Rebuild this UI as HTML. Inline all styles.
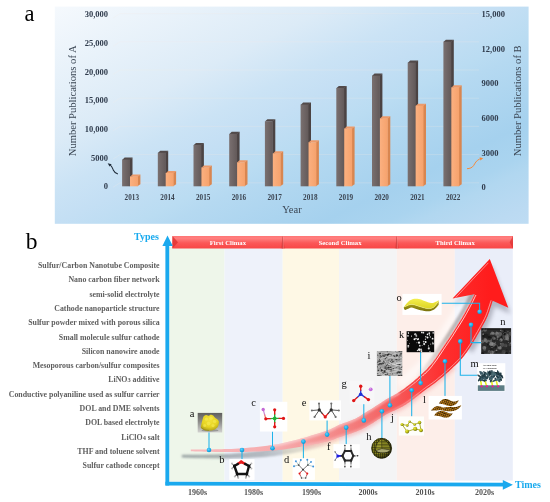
<!DOCTYPE html>
<html lang="en">
<head>
<meta charset="utf-8">
<title>Figure</title>
<style>
html,body{margin:0;padding:0;background:#fff;}
body{width:550px;height:502px;overflow:hidden;position:relative;font-family:"Liberation Serif", "DejaVu Serif", serif;}
svg{position:absolute;left:0;top:0;display:block;}
text{font-family:"Liberation Serif", "DejaVu Serif", serif;}
.ax{font-weight:bold;font-size:8.5px;fill:#2f3b4c;}
.yr{font-weight:bold;font-size:7.2px;fill:#3a4350;}
.ttl{font-size:10.6px;fill:#3b4654;}
.lst{font-weight:bold;font-size:7.85px;fill:#5e5e5e;text-anchor:end;}
.dec{font-weight:bold;font-size:8px;fill:#555;text-anchor:middle;}
.cyan{font-weight:bold;font-size:10px;fill:#18aaee;}
.lab{font-size:10.5px;fill:#111;}
.ban{font-weight:bold;font-size:6.7px;fill:#fff;text-anchor:middle;}
.big{font-size:23.5px;fill:#000;}
</style>
</head>
<body>
<svg width="550" height="502" viewBox="0 0 550 502">
<defs>
<linearGradient id="pbg" gradientUnits="userSpaceOnUse" x1="55" y1="6.5" x2="229" y2="367.8">
<stop offset="0" stop-color="#f5f9fd"/>
<stop offset="0.30" stop-color="#dcebf7"/>
<stop offset="0.414" stop-color="#cbe3f5"/>
<stop offset="0.486" stop-color="#c4dff4"/>
<stop offset="0.574" stop-color="#badcf2"/>
<stop offset="0.611" stop-color="#b5d9f1"/>
<stop offset="0.773" stop-color="#a5d1ee"/>
<stop offset="0.843" stop-color="#aad4ef"/>
<stop offset="0.875" stop-color="#b1d7f0"/>
<stop offset="0.96" stop-color="#bbdaf2"/>
<stop offset="1" stop-color="#bedcf3"/>
</linearGradient>
<linearGradient id="dk" x1="0" x2="1" y1="0" y2="0"><stop offset="0" stop-color="#7a7070"/><stop offset="1" stop-color="#625959"/></linearGradient>
<linearGradient id="og" x1="0" x2="1" y1="0" y2="0"><stop offset="0" stop-color="#fbb080"/><stop offset="1" stop-color="#f6a26c"/></linearGradient>
<linearGradient id="ban" x1="0" x2="0" y1="0" y2="1"><stop offset="0" stop-color="#ff7474"/><stop offset="0.18" stop-color="#ff8080"/><stop offset="0.55" stop-color="#fb5858"/><stop offset="1" stop-color="#f84646"/></linearGradient>
<linearGradient id="arr" gradientUnits="userSpaceOnUse" x1="190" y1="0" x2="490" y2="0">
<stop offset="0" stop-color="#f8babd"/>
<stop offset="0.3" stop-color="#f6aaac"/>
<stop offset="0.45" stop-color="#f49090"/>
<stop offset="0.58" stop-color="#f37474"/>
<stop offset="0.68" stop-color="#f65c5c"/>
<stop offset="0.76" stop-color="#fa4444"/>
<stop offset="0.85" stop-color="#fe2e2e"/>
<stop offset="1" stop-color="#ff1c1c"/>
</linearGradient>
<radialGradient id="dot" cx="0.4" cy="0.35" r="0.7"><stop offset="0" stop-color="#5fd0ff"/><stop offset="0.6" stop-color="#17aee8"/><stop offset="1" stop-color="#0b8fcc"/></radialGradient>
<filter id="blur3" x="-20%" y="-20%" width="140%" height="140%"><feGaussianBlur stdDeviation="2.2"/></filter>
<filter id="blur1" x="-20%" y="-20%" width="140%" height="140%"><feGaussianBlur stdDeviation="0.6"/></filter>
<filter id="blur2" x="-20%" y="-20%" width="140%" height="140%"><feGaussianBlur stdDeviation="1.3"/></filter>
</defs>
<rect x="0" y="0" width="550" height="502" fill="#ffffff"/>

<rect x="54.8" y="6.6" width="473.8" height="217.2" fill="url(#pbg)"/>
<path d="M113 18.1 L120 13.6 L479 13.6" fill="none" stroke="#f3ece6" stroke-opacity="0.42" stroke-width="0.6"/>
<path d="M113 46.3 L120 41.8 L479 41.8" fill="none" stroke="#f3ece6" stroke-opacity="0.42" stroke-width="0.6"/>
<path d="M113 74.5 L120 70.0 L479 70.0" fill="none" stroke="#f3ece6" stroke-opacity="0.42" stroke-width="0.6"/>
<path d="M113 102.7 L120 98.2 L479 98.2" fill="none" stroke="#f3ece6" stroke-opacity="0.42" stroke-width="0.6"/>
<path d="M113 130.9 L120 126.4 L479 126.4" fill="none" stroke="#f3ece6" stroke-opacity="0.42" stroke-width="0.6"/>
<path d="M113 159.1 L120 154.6 L479 154.6" fill="none" stroke="#f3ece6" stroke-opacity="0.42" stroke-width="0.6"/>
<path d="M113 187.3 L120 182.8 L479 182.8" fill="none" stroke="#f3ece6" stroke-opacity="0.42" stroke-width="0.6"/>
<polygon points="129.5,159.6 132.5,157.5 132.5,184.2 129.5,186.3" fill="#4b4343"/><polygon points="122.1,159.9 124.6,157.5 132.5,157.5 130.0,159.9" fill="#524a4a"/><rect x="122.1" y="159.6" width="7.9" height="26.7" fill="url(#dk)"/>
<polygon points="137.4,176.5 140.4,174.4 140.4,184.2 137.4,186.3" fill="#d98650"/><polygon points="130.0,176.8 132.5,174.4 140.4,174.4 137.9,176.8" fill="#ec9a6a"/><rect x="130.0" y="176.5" width="7.9" height="9.8" fill="url(#og)"/>
<polygon points="165.2,152.8 168.2,150.7 168.2,184.2 165.2,186.3" fill="#4b4343"/><polygon points="157.8,153.1 160.3,150.7 168.2,150.7 165.7,153.1" fill="#524a4a"/><rect x="157.8" y="152.8" width="7.9" height="33.5" fill="url(#dk)"/>
<polygon points="173.1,173.0 176.1,170.9 176.1,184.2 173.1,186.3" fill="#d98650"/><polygon points="165.7,173.3 168.2,170.9 176.1,170.9 173.6,173.3" fill="#ec9a6a"/><rect x="165.7" y="173.0" width="7.9" height="13.3" fill="url(#og)"/>
<polygon points="200.9,145.0 203.9,142.9 203.9,184.2 200.9,186.3" fill="#4b4343"/><polygon points="193.5,145.3 196.0,142.9 203.9,142.9 201.4,145.3" fill="#524a4a"/><rect x="193.5" y="145.0" width="7.9" height="41.3" fill="url(#dk)"/>
<polygon points="208.8,167.5 211.8,165.4 211.8,184.2 208.8,186.3" fill="#d98650"/><polygon points="201.4,167.8 203.9,165.4 211.8,165.4 209.3,167.8" fill="#ec9a6a"/><rect x="201.4" y="167.5" width="7.9" height="18.8" fill="url(#og)"/>
<polygon points="236.6,133.9 239.6,131.8 239.6,184.2 236.6,186.3" fill="#4b4343"/><polygon points="229.2,134.2 231.7,131.8 239.6,131.8 237.1,134.2" fill="#524a4a"/><rect x="229.2" y="133.9" width="7.9" height="52.4" fill="url(#dk)"/>
<polygon points="244.5,162.3 247.5,160.2 247.5,184.2 244.5,186.3" fill="#d98650"/><polygon points="237.1,162.6 239.6,160.2 247.5,160.2 245.0,162.6" fill="#ec9a6a"/><rect x="237.1" y="162.3" width="7.9" height="24.0" fill="url(#og)"/>
<polygon points="272.3,121.3 275.3,119.2 275.3,184.2 272.3,186.3" fill="#4b4343"/><polygon points="264.9,121.6 267.4,119.2 275.3,119.2 272.8,121.6" fill="#524a4a"/><rect x="264.9" y="121.3" width="7.9" height="65.0" fill="url(#dk)"/>
<polygon points="280.2,153.4 283.2,151.3 283.2,184.2 280.2,186.3" fill="#d98650"/><polygon points="272.8,153.7 275.3,151.3 283.2,151.3 280.7,153.7" fill="#ec9a6a"/><rect x="272.8" y="153.4" width="7.9" height="32.9" fill="url(#og)"/>
<polygon points="308.0,104.6 311.0,102.5 311.0,184.2 308.0,186.3" fill="#4b4343"/><polygon points="300.6,104.9 303.1,102.5 311.0,102.5 308.5,104.9" fill="#524a4a"/><rect x="300.6" y="104.6" width="7.9" height="81.7" fill="url(#dk)"/>
<polygon points="315.9,142.3 318.9,140.2 318.9,184.2 315.9,186.3" fill="#d98650"/><polygon points="308.5,142.6 311.0,140.2 318.9,140.2 316.4,142.6" fill="#ec9a6a"/><rect x="308.5" y="142.3" width="7.9" height="44.0" fill="url(#og)"/>
<polygon points="343.7,88.0 346.7,85.9 346.7,184.2 343.7,186.3" fill="#4b4343"/><polygon points="336.3,88.3 338.8,85.9 346.7,85.9 344.2,88.3" fill="#524a4a"/><rect x="336.3" y="88.0" width="7.9" height="98.3" fill="url(#dk)"/>
<polygon points="351.6,128.5 354.6,126.4 354.6,184.2 351.6,186.3" fill="#d98650"/><polygon points="344.2,128.8 346.7,126.4 354.6,126.4 352.1,128.8" fill="#ec9a6a"/><rect x="344.2" y="128.5" width="7.9" height="57.8" fill="url(#og)"/>
<polygon points="379.4,75.7 382.4,73.6 382.4,184.2 379.4,186.3" fill="#4b4343"/><polygon points="372.0,76.0 374.5,73.6 382.4,73.6 379.9,76.0" fill="#524a4a"/><rect x="372.0" y="75.7" width="7.9" height="110.6" fill="url(#dk)"/>
<polygon points="387.3,118.4 390.3,116.3 390.3,184.2 387.3,186.3" fill="#d98650"/><polygon points="379.9,118.7 382.4,116.3 390.3,116.3 387.8,118.7" fill="#ec9a6a"/><rect x="379.9" y="118.4" width="7.9" height="67.9" fill="url(#og)"/>
<polygon points="415.1,62.7 418.1,60.6 418.1,184.2 415.1,186.3" fill="#4b4343"/><polygon points="407.7,63.0 410.2,60.6 418.1,60.6 415.6,63.0" fill="#524a4a"/><rect x="407.7" y="62.7" width="7.9" height="123.6" fill="url(#dk)"/>
<polygon points="423.0,105.8 426.0,103.7 426.0,184.2 423.0,186.3" fill="#d98650"/><polygon points="415.6,106.1 418.1,103.7 426.0,103.7 423.5,106.1" fill="#ec9a6a"/><rect x="415.6" y="105.8" width="7.9" height="80.5" fill="url(#og)"/>
<polygon points="450.8,41.8 453.8,39.7 453.8,184.2 450.8,186.3" fill="#4b4343"/><polygon points="443.4,42.1 445.9,39.7 453.8,39.7 451.3,42.1" fill="#524a4a"/><rect x="443.4" y="41.8" width="7.9" height="144.5" fill="url(#dk)"/>
<polygon points="458.7,87.4 461.7,85.3 461.7,184.2 458.7,186.3" fill="#d98650"/><polygon points="451.3,87.7 453.8,85.3 461.7,85.3 459.2,87.7" fill="#ec9a6a"/><rect x="451.3" y="87.4" width="7.9" height="98.9" fill="url(#og)"/>
<text class="ax" x="108" y="17.4" text-anchor="end">30,000</text>
<text class="ax" x="108" y="46.0" text-anchor="end">25,000</text>
<text class="ax" x="108" y="74.7" text-anchor="end">20,000</text>
<text class="ax" x="108" y="103.3" text-anchor="end">15,000</text>
<text class="ax" x="108" y="132.0" text-anchor="end">10,000</text>
<text class="ax" x="108" y="160.7" text-anchor="end">5000</text>
<text class="ax" x="108" y="189.3" text-anchor="end">0</text>
<text class="ax" x="481.6" y="17.2">15,000</text>
<text class="ax" x="481.6" y="51.8">12,000</text>
<text class="ax" x="481.6" y="86.4">9000</text>
<text class="ax" x="481.6" y="121.0">6000</text>
<text class="ax" x="481.6" y="155.6">3000</text>
<text class="ax" x="481.6" y="190.2">0</text>
<text class="yr" x="131.8" y="200.1" text-anchor="middle">2013</text>
<text class="yr" x="167.5" y="200.1" text-anchor="middle">2014</text>
<text class="yr" x="203.2" y="200.1" text-anchor="middle">2015</text>
<text class="yr" x="238.9" y="200.1" text-anchor="middle">2016</text>
<text class="yr" x="274.6" y="200.1" text-anchor="middle">2017</text>
<text class="yr" x="310.3" y="200.1" text-anchor="middle">2018</text>
<text class="yr" x="346.0" y="200.1" text-anchor="middle">2019</text>
<text class="yr" x="381.7" y="200.1" text-anchor="middle">2020</text>
<text class="yr" x="417.4" y="200.1" text-anchor="middle">2021</text>
<text class="yr" x="453.1" y="200.1" text-anchor="middle">2022</text>
<text class="ttl" x="292" y="213.3" text-anchor="middle" style="font-size:10.5px">Year</text>
<text class="ttl" transform="translate(75.8 100.8) rotate(-90)" text-anchor="middle">Number Publications of A</text>
<text class="ttl" transform="translate(521.2 100.8) rotate(-90)" text-anchor="middle">Number Publications of B</text>
<path d="M117.9 173.9 C115.6 173.4 114.2 172 113.4 170.2 C112.6 168.4 112.2 166.6 110.4 165.2" fill="none" stroke="#1c2836" stroke-width="1.05"/>
<polygon points="107.7,163.3 111.6,164.2 109.6,166.5" fill="#1c2836"/>
<path d="M467 168.7 C470 168.6 472.2 167.6 473.6 165.6 C475 163.4 476 160.6 479.8 158.9" fill="none" stroke="#f58a3c" stroke-width="1.0"/>
<polygon points="483.2,158.3 479.6,157.3 480.4,160.6" fill="#f58a3c"/>
<text class="big" x="24.4" y="21.4" style="font-size:22.5px">a</text>
<text class="big" x="25.8" y="249.3">b</text>
<text class="cyan" x="134" y="240.4">Types</text>
<text class="cyan" x="515.0" y="488.4">Times</text>
<text class="lst" x="159.6" y="268.1">Sulfur/Carbon Nanotube Composite</text>
<text class="lst" x="159.6" y="282.4">Nano carbon fiber network</text>
<text class="lst" x="159.6" y="296.7">semi-solid electrolyte</text>
<text class="lst" x="159.6" y="310.9">Cathode nanoparticle structure</text>
<text class="lst" x="159.6" y="325.2">Sulfur powder mixed with porous silica</text>
<text class="lst" x="159.6" y="339.5">Small molecule sulfur cathode</text>
<text class="lst" x="159.6" y="353.8">Silicon nanowire anode</text>
<text class="lst" x="159.6" y="368.1">Mesoporous carbon/sulfur composites</text>
<text class="lst" x="159.6" y="382.3">LiNO<tspan style="font-size:6.4px">3</tspan> additive</text>
<text class="lst" x="159.6" y="396.6">Conductive polyaniline used as sulfur carrier</text>
<text class="lst" x="159.6" y="410.9">DOL and DME solvents</text>
<text class="lst" x="159.6" y="425.2">DOL based electrolyte</text>
<text class="lst" x="159.6" y="439.5">LiClO<tspan style="font-size:6.4px">4</tspan> salt</text>
<text class="lst" x="159.6" y="453.7">THF and toluene solvent</text>
<text class="lst" x="159.6" y="468.0">Sulfur cathode concept</text>
<rect x="169.0" y="247" width="55.5" height="234.6" fill="#eef6ea"/>
<rect x="224.5" y="247" width="58.2" height="234.6" fill="#eef2fa"/>
<rect x="282.7" y="247" width="56.3" height="234.6" fill="#fef8e5"/>
<rect x="339.0" y="247" width="57.8" height="233.6" fill="#f4f4f5"/>
<rect x="396.8" y="247" width="58.0" height="233.6" fill="#fdeee9"/>
<rect x="454.8" y="247" width="58.0" height="233.6" fill="#eaeef9"/>
<rect x="172.4" y="236.0" width="340.6" height="12.5" fill="url(#ban)"/>
<polygon points="172.4,236.0 178.0,242.2 172.4,248.5" fill="#e23434" opacity="0.85"/>
<polygon points="280.7,248.5 282.7,237.0 285.1,248.5" fill="#d63030" opacity="0.35" filter="url(#blur1)"/>
<line x1="282.5" y1="236.6" x2="282.5" y2="248.5" stroke="#b83030" stroke-opacity="0.8" stroke-width="0.6"/>
<line x1="283.2" y1="236.6" x2="283.2" y2="248.5" stroke="#ffb0b0" stroke-opacity="0.7" stroke-width="0.5"/>
<polygon points="394.8,248.5 396.8,237.0 399.2,248.5" fill="#d63030" opacity="0.35" filter="url(#blur1)"/>
<line x1="396.6" y1="236.6" x2="396.6" y2="248.5" stroke="#b83030" stroke-opacity="0.8" stroke-width="0.6"/>
<line x1="397.3" y1="236.6" x2="397.3" y2="248.5" stroke="#ffb0b0" stroke-opacity="0.7" stroke-width="0.5"/>
<polygon points="513.0,236.0 509.6,242.2 513.0,248.5" fill="#dc3030" opacity="0.7"/>
<text class="ban" x="227.9" y="244.6">First Climax</text>
<text class="ban" x="340.1" y="244.6">Second Climax</text>
<text class="ban" x="455.2" y="244.6">Third Climax</text>
<rect x="165.4" y="243" width="3.8" height="242.5" fill="#1aa9ee"/>
<polygon points="167.5,235.4 172.8,246.0 162.4,246.0" fill="#1aa9ee"/>
<polygon points="165.4,481.7 503.5,482.8 503.5,486.6 165.4,485.5" fill="#1aa9ee"/>
<polygon points="512.9,484.8 502.8,479.9 502.8,489.8" fill="#1aa9ee"/>
<text class="dec" x="197.6" y="495.3">1960s</text>
<text class="dec" x="253.6" y="495.3">1980s</text>
<text class="dec" x="311.5" y="495.3">1990s</text>
<text class="dec" x="368.0" y="495.3">2000s</text>
<text class="dec" x="425.0" y="495.3">2010s</text>
<text class="dec" x="484.6" y="495.3">2020s</text>
<defs><linearGradient id="tsh" gradientUnits="userSpaceOnUse" x1="180" y1="0" x2="345" y2="0"><stop offset="0" stop-color="#66727a" stop-opacity="0.55"/><stop offset="0.55" stop-color="#6e787e" stop-opacity="0.45"/><stop offset="1" stop-color="#8a8a8a" stop-opacity="0"/></linearGradient><clipPath id="carr"><path d="M190.8 449.5 L192.6 449.5 L195.1 449.5 L198.0 449.5 L201.2 449.5 L204.7 449.4 L208.2 449.4 L211.7 449.4 L215.0 449.3 L218.2 449.2 L221.4 449.2 L224.7 449.1 L227.9 449.0 L231.3 448.9 L234.8 448.8 L238.3 448.6 L242.0 448.3 L245.9 448.0 L250.0 447.6 L254.2 447.2 L258.6 446.7 L262.9 446.2 L267.1 445.7 L271.2 445.1 L275.0 444.5 L278.6 443.9 L282.0 443.2 L285.3 442.5 L288.4 441.8 L291.6 441.1 L294.7 440.3 L297.8 439.5 L301.0 438.6 L304.3 437.7 L307.8 436.7 L311.3 435.6 L314.8 434.6 L318.2 433.5 L321.4 432.4 L324.4 431.4 L327.0 430.5 L329.2 429.7 L331.1 428.9 L332.7 428.1 L334.2 427.4 L335.5 426.7 L336.9 426.0 L338.4 425.3 L340.0 424.6 L341.8 423.9 L343.8 423.1 L345.8 422.4 L347.8 421.7 L349.8 421.0 L351.7 420.3 L353.4 419.6 L355.0 418.9 L356.3 418.3 L357.5 417.6 L358.5 417.0 L359.4 416.4 L360.3 415.9 L361.2 415.3 L362.1 414.7 L363.0 414.1 L364.0 413.5 L365.0 412.9 L366.0 412.3 L366.9 411.7 L367.9 411.1 L368.9 410.5 L369.9 409.9 L370.9 409.3 L371.9 408.7 L372.9 408.0 L373.9 407.4 L374.9 406.8 L375.9 406.1 L376.9 405.5 L377.9 404.8 L378.9 404.2 L379.9 403.5 L380.9 402.9 L381.9 402.2 L382.9 401.6 L383.9 400.9 L384.9 400.2 L385.9 399.6 L386.9 399.0 L387.9 398.4 L388.9 397.9 L389.9 397.3 L390.9 396.8 L392.0 396.3 L393.0 395.7 L394.0 395.2 L395.0 394.6 L396.0 394.0 L397.0 393.4 L398.0 392.7 L399.0 392.1 L400.0 391.4 L401.0 390.8 L402.0 390.1 L403.0 389.4 L404.0 388.7 L405.1 387.9 L406.1 387.1 L407.2 386.3 L408.2 385.5 L409.2 384.8 L410.1 384.1 L410.9 383.4 L411.6 382.8 L412.3 382.3 L412.8 381.9 L413.3 381.4 L413.9 381.0 L414.4 380.6 L414.9 380.1 L415.5 379.6 L416.1 379.0 L416.8 378.5 L417.5 377.9 L418.1 377.2 L418.8 376.6 L419.5 375.9 L420.3 375.3 L421.0 374.6 L421.8 373.9 L422.5 373.2 L423.3 372.5 L424.1 371.8 L424.9 371.1 L425.8 370.3 L426.6 369.5 L427.4 368.6 L428.2 367.6 L429.1 366.6 L430.0 365.5 L430.9 364.4 L431.7 363.3 L432.6 362.2 L433.4 361.1 L434.2 360.0 L434.9 359.0 L435.7 357.9 L436.3 356.9 L437.0 355.9 L437.7 354.9 L438.3 354.0 L438.9 353.0 L439.6 352.0 L440.3 351.0 L440.9 350.1 L441.5 349.1 L442.2 348.2 L442.8 347.2 L443.4 346.3 L444.1 345.3 L444.7 344.4 L445.3 343.5 L446.0 342.5 L446.6 341.6 L447.3 340.6 L447.9 339.7 L448.5 338.7 L449.2 337.8 L449.8 336.8 L450.4 335.8 L451.1 334.8 L451.7 333.9 L452.3 332.9 L452.9 331.9 L453.6 330.9 L454.2 329.9 L454.8 328.9 L455.4 327.9 L456.1 326.9 L456.7 326.0 L457.3 325.0 L457.9 324.0 L458.6 323.0 L459.2 322.0 L459.8 321.0 L460.4 320.0 L461.1 319.0 L461.7 317.9 L462.3 316.9 L462.9 315.8 L463.6 314.8 L464.2 313.7 L464.8 312.6 L465.4 311.5 L466.1 310.3 L466.7 309.1 L467.3 307.9 L468.0 306.7 L468.6 305.5 L469.2 304.4 L469.8 303.2 L470.4 302.0 L471.0 300.7 L471.7 299.4 L472.3 298.1 L472.9 296.9 L473.4 295.8 L473.9 294.9 L474.2 294.2 L452.5 298.6 L489.8 259.0 L508.3 307.8 L492.7 300.8 L492.3 302.0 L491.8 303.6 L491.2 305.5 L490.5 307.6 L489.8 309.8 L489.1 312.0 L488.3 314.1 L487.6 315.9 L486.9 317.6 L486.1 319.2 L485.4 320.7 L484.6 322.2 L483.8 323.7 L483.0 325.1 L482.2 326.6 L481.4 328.0 L480.6 329.5 L479.8 330.9 L479.0 332.3 L478.2 333.7 L477.4 335.1 L476.6 336.5 L475.8 337.9 L475.0 339.2 L474.2 340.5 L473.5 341.8 L472.7 343.1 L472.0 344.3 L471.2 345.5 L470.5 346.8 L469.7 348.0 L468.8 349.3 L467.9 350.6 L467.0 351.9 L466.0 353.2 L465.0 354.6 L464.0 355.9 L462.9 357.2 L461.9 358.4 L460.9 359.6 L459.9 360.7 L458.8 361.8 L457.8 362.9 L456.7 363.9 L455.7 364.9 L454.6 365.9 L453.6 366.8 L452.6 367.8 L451.6 368.7 L450.7 369.6 L449.7 370.5 L448.8 371.4 L447.8 372.2 L446.9 373.1 L445.9 374.0 L444.8 374.9 L443.7 375.9 L442.5 376.9 L441.2 378.0 L439.9 379.0 L438.6 380.1 L437.4 381.1 L436.2 382.1 L435.0 383.0 L433.9 383.8 L432.9 384.6 L431.8 385.3 L430.8 386.0 L429.9 386.7 L428.9 387.4 L427.9 388.1 L426.9 388.8 L425.9 389.5 L424.9 390.3 L423.9 391.1 L422.9 391.8 L421.9 392.6 L420.9 393.4 L419.9 394.1 L418.9 394.9 L417.9 395.7 L416.9 396.5 L415.9 397.3 L414.9 398.1 L413.9 398.9 L412.9 399.6 L411.9 400.4 L410.9 401.1 L409.9 401.8 L408.9 402.5 L407.9 403.1 L406.9 403.8 L406.0 404.4 L405.0 405.0 L404.0 405.6 L403.0 406.2 L402.0 406.8 L401.0 407.3 L400.0 407.8 L399.0 408.3 L398.0 408.8 L397.0 409.2 L396.0 409.7 L395.0 410.2 L394.0 410.7 L393.0 411.1 L392.0 411.6 L390.9 412.0 L389.9 412.5 L388.9 413.0 L387.9 413.5 L386.9 414.0 L385.9 414.6 L384.9 415.2 L383.9 415.8 L382.9 416.4 L381.9 417.1 L380.9 417.7 L379.9 418.4 L378.9 419.0 L377.9 419.6 L376.9 420.3 L375.9 420.9 L374.9 421.6 L373.9 422.2 L372.9 422.9 L371.9 423.5 L370.9 424.1 L369.9 424.7 L368.9 425.3 L367.9 425.8 L366.9 426.4 L366.0 426.9 L365.0 427.5 L364.0 428.0 L363.0 428.5 L362.1 429.0 L361.2 429.4 L360.3 429.8 L359.4 430.2 L358.5 430.6 L357.5 431.0 L356.3 431.5 L355.0 432.0 L353.4 432.6 L351.7 433.2 L349.8 433.8 L347.8 434.4 L345.8 435.1 L343.8 435.8 L341.8 436.4 L340.0 437.0 L338.4 437.6 L336.9 438.1 L335.5 438.7 L334.2 439.2 L332.7 439.7 L331.1 440.3 L329.2 440.8 L327.0 441.4 L324.4 442.0 L321.4 442.7 L318.2 443.4 L314.8 444.1 L311.3 444.8 L307.8 445.5 L304.3 446.1 L301.0 446.7 L297.8 447.3 L294.7 447.8 L291.6 448.3 L288.4 448.8 L285.3 449.2 L282.0 449.7 L278.6 450.0 L275.0 450.4 L271.2 450.7 L267.1 451.0 L262.9 451.2 L258.6 451.4 L254.2 451.6 L250.0 451.8 L245.9 451.9 L242.0 452.0 L238.3 452.1 L234.8 452.1 L231.3 452.1 L227.9 452.1 L224.7 452.0 L221.4 452.0 L218.2 451.9 L215.0 451.9 L211.7 451.8 L208.2 451.8 L204.7 451.7 L201.2 451.6 L198.0 451.5 L195.1 451.4 L192.6 451.3 L190.8 451.3Z"/></clipPath></defs>
<g filter="url(#blur2)"><path d="M190.8 449.5 L192.6 449.5 L195.1 449.5 L198.0 449.5 L201.2 449.5 L204.7 449.4 L208.2 449.4 L211.7 449.4 L215.0 449.3 L218.2 449.2 L221.4 449.2 L224.7 449.1 L227.9 449.0 L231.3 448.9 L234.8 448.8 L238.3 448.6 L242.0 448.3 L245.9 448.0 L250.0 447.6 L254.2 447.2 L258.6 446.7 L262.9 446.2 L267.1 445.7 L271.2 445.1 L275.0 444.5 L278.6 443.9 L282.0 443.2 L285.3 442.5 L288.4 441.8 L291.6 441.1 L294.7 440.3 L297.8 439.5 L301.0 438.6 L304.3 437.7 L307.8 436.7 L311.3 435.6 L314.8 434.6 L318.2 433.5 L321.4 432.4 L324.4 431.4 L327.0 430.5 L329.2 429.7 L331.1 428.9 L332.7 428.1 L334.2 427.4 L335.5 426.7 L336.9 426.0 L338.4 425.3 L340.0 424.6 L341.8 423.9 L343.8 423.1 L345.8 422.4 L347.8 421.7 L349.8 421.0 L351.7 420.3 L353.4 419.6 L355.0 418.9 L356.3 418.3 L357.5 417.6 L358.5 417.0 L359.4 416.4 L359.4 430.2 L358.5 430.6 L357.5 431.0 L356.3 431.5 L355.0 432.0 L353.4 432.6 L351.7 433.2 L349.8 433.8 L347.8 434.4 L345.8 435.1 L343.8 435.8 L341.8 436.4 L340.0 437.0 L338.4 437.6 L336.9 438.1 L335.5 438.7 L334.2 439.2 L332.7 439.7 L331.1 440.3 L329.2 440.8 L327.0 441.4 L324.4 442.0 L321.4 442.7 L318.2 443.4 L314.8 444.1 L311.3 444.8 L307.8 445.5 L304.3 446.1 L301.0 446.7 L297.8 447.3 L294.7 447.8 L291.6 448.3 L288.4 448.8 L285.3 449.2 L282.0 449.7 L278.6 450.0 L275.0 450.4 L271.2 450.7 L267.1 451.0 L262.9 451.2 L258.6 451.4 L254.2 451.6 L250.0 451.8 L245.9 451.9 L242.0 452.0 L238.3 452.1 L234.8 452.1 L231.3 452.1 L227.9 452.1 L224.7 452.0 L221.4 452.0 L218.2 451.9 L215.0 451.9 L211.7 451.8 L208.2 451.8 L204.7 451.7 L201.2 451.6 L198.0 451.5 L195.1 451.4 L192.6 451.3 L190.8 451.3Z" fill="url(#tsh)" stroke="url(#tsh)" stroke-width="1.0" transform="translate(-8.5 5.8)"/></g>
<g filter="url(#blur3)" opacity="0.5"><path d="M301.0 438.6 L304.3 437.7 L307.8 436.7 L311.3 435.6 L314.8 434.6 L318.2 433.5 L321.4 432.4 L324.4 431.4 L327.0 430.5 L329.2 429.7 L331.1 428.9 L332.7 428.1 L334.2 427.4 L335.5 426.7 L336.9 426.0 L338.4 425.3 L340.0 424.6 L341.8 423.9 L343.8 423.1 L345.8 422.4 L347.8 421.7 L349.8 421.0 L351.7 420.3 L353.4 419.6 L355.0 418.9 L356.3 418.3 L357.5 417.6 L358.5 417.0 L359.4 416.4 L360.3 415.9 L361.2 415.3 L362.1 414.7 L363.0 414.1 L364.0 413.5 L365.0 412.9 L366.0 412.3 L366.9 411.7 L367.9 411.1 L368.9 410.5 L369.9 409.9 L370.9 409.3 L371.9 408.7 L372.9 408.0 L373.9 407.4 L374.9 406.8 L375.9 406.1 L376.9 405.5 L377.9 404.8 L378.9 404.2 L379.9 403.5 L380.9 402.9 L381.9 402.2 L382.9 401.6 L383.9 400.9 L384.9 400.2 L385.9 399.6 L386.9 399.0 L387.9 398.4 L388.9 397.9 L389.9 397.3 L390.9 396.8 L392.0 396.3 L393.0 395.7 L394.0 395.2 L395.0 394.6 L396.0 394.0 L397.0 393.4 L398.0 392.7 L399.0 392.1 L400.0 391.4 L401.0 390.8 L402.0 390.1 L403.0 389.4 L404.0 388.7 L405.1 387.9 L406.1 387.1 L407.2 386.3 L408.2 385.5 L409.2 384.8 L410.1 384.1 L410.9 383.4 L411.6 382.8 L412.3 382.3 L412.8 381.9 L413.3 381.4 L413.9 381.0 L414.4 380.6 L414.9 380.1 L415.5 379.6 L416.1 379.0 L416.8 378.5 L417.5 377.9 L418.1 377.2 L418.8 376.6 L419.5 375.9 L420.3 375.3 L421.0 374.6 L421.8 373.9 L422.5 373.2 L423.3 372.5 L424.1 371.8 L424.9 371.1 L425.8 370.3 L426.6 369.5 L427.4 368.6 L428.2 367.6 L429.1 366.6 L430.0 365.5 L430.9 364.4 L431.7 363.3 L432.6 362.2 L433.4 361.1 L434.2 360.0 L434.9 359.0 L435.7 357.9 L436.3 356.9 L437.0 355.9 L437.7 354.9 L438.3 354.0 L438.9 353.0 L439.6 352.0 L454.6 365.9 L453.6 366.8 L452.6 367.8 L451.6 368.7 L450.7 369.6 L449.7 370.5 L448.8 371.4 L447.8 372.2 L446.9 373.1 L445.9 374.0 L444.8 374.9 L443.7 375.9 L442.5 376.9 L441.2 378.0 L439.9 379.0 L438.6 380.1 L437.4 381.1 L436.2 382.1 L435.0 383.0 L433.9 383.8 L432.9 384.6 L431.8 385.3 L430.8 386.0 L429.9 386.7 L428.9 387.4 L427.9 388.1 L426.9 388.8 L425.9 389.5 L424.9 390.3 L423.9 391.1 L422.9 391.8 L421.9 392.6 L420.9 393.4 L419.9 394.1 L418.9 394.9 L417.9 395.7 L416.9 396.5 L415.9 397.3 L414.9 398.1 L413.9 398.9 L412.9 399.6 L411.9 400.4 L410.9 401.1 L409.9 401.8 L408.9 402.5 L407.9 403.1 L406.9 403.8 L406.0 404.4 L405.0 405.0 L404.0 405.6 L403.0 406.2 L402.0 406.8 L401.0 407.3 L400.0 407.8 L399.0 408.3 L398.0 408.8 L397.0 409.2 L396.0 409.7 L395.0 410.2 L394.0 410.7 L393.0 411.1 L392.0 411.6 L390.9 412.0 L389.9 412.5 L388.9 413.0 L387.9 413.5 L386.9 414.0 L385.9 414.6 L384.9 415.2 L383.9 415.8 L382.9 416.4 L381.9 417.1 L380.9 417.7 L379.9 418.4 L378.9 419.0 L377.9 419.6 L376.9 420.3 L375.9 420.9 L374.9 421.6 L373.9 422.2 L372.9 422.9 L371.9 423.5 L370.9 424.1 L369.9 424.7 L368.9 425.3 L367.9 425.8 L366.9 426.4 L366.0 426.9 L365.0 427.5 L364.0 428.0 L363.0 428.5 L362.1 429.0 L361.2 429.4 L360.3 429.8 L359.4 430.2 L358.5 430.6 L357.5 431.0 L356.3 431.5 L355.0 432.0 L353.4 432.6 L351.7 433.2 L349.8 433.8 L347.8 434.4 L345.8 435.1 L343.8 435.8 L341.8 436.4 L340.0 437.0 L338.4 437.6 L336.9 438.1 L335.5 438.7 L334.2 439.2 L332.7 439.7 L331.1 440.3 L329.2 440.8 L327.0 441.4 L324.4 442.0 L321.4 442.7 L318.2 443.4 L314.8 444.1 L311.3 444.8 L307.8 445.5 L304.3 446.1 L301.0 446.7Z" fill="#f28a8a" transform="translate(1.0 2.0)"/></g>
<clipPath id="ccol"><rect x="169" y="247" width="343.8" height="234"/></clipPath>
<g clip-path="url(#ccol)"><g filter="url(#blur3)" opacity="0.42"><path d="M452.3 332.9 L452.9 331.9 L453.6 330.9 L454.2 329.9 L454.8 328.9 L455.4 327.9 L456.1 326.9 L456.7 326.0 L457.3 325.0 L457.9 324.0 L458.6 323.0 L459.2 322.0 L459.8 321.0 L460.4 320.0 L461.1 319.0 L461.7 317.9 L462.3 316.9 L462.9 315.8 L463.6 314.8 L464.2 313.7 L464.8 312.6 L465.4 311.5 L466.1 310.3 L466.7 309.1 L467.3 307.9 L468.0 306.7 L468.6 305.5 L469.2 304.4 L469.8 303.2 L470.4 302.0 L471.0 300.7 L471.7 299.4 L472.3 298.1 L472.9 296.9 L473.4 295.8 L473.9 294.9 L474.2 294.2 L452.5 298.6 L489.8 259.0 L508.3 307.8 L492.7 300.8 L492.3 302.0 L491.8 303.6 L491.2 305.5 L490.5 307.6 L489.8 309.8 L489.1 312.0 L488.3 314.1 L487.6 315.9 L486.9 317.6 L486.1 319.2 L485.4 320.7 L484.6 322.2 L483.8 323.7 L483.0 325.1 L482.2 326.6 L481.4 328.0 L480.6 329.5 L479.8 330.9 L479.0 332.3 L478.2 333.7 L477.4 335.1 L476.6 336.5 L475.8 337.9 L475.0 339.2 L474.2 340.5 L473.5 341.8 L472.7 343.1 L472.0 344.3 L471.2 345.5 L470.5 346.8Z" fill="#667" transform="translate(2.0 6)"/></g></g>
<path d="M405.1 387.9 L406.1 387.1 L407.2 386.3 L408.2 385.5 L409.2 384.8 L410.1 384.1 L410.9 383.4 L411.6 382.8 L412.3 382.3 L412.8 381.9 L413.3 381.4 L413.9 381.0 L414.4 380.6 L414.9 380.1 L415.5 379.6 L416.1 379.0 L416.8 378.5 L417.5 377.9 L418.1 377.2 L418.8 376.6 L419.5 375.9 L420.3 375.3 L421.0 374.6 L421.8 373.9 L422.5 373.2 L423.3 372.5 L424.1 371.8 L424.9 371.1 L425.8 370.3 L426.6 369.5 L427.4 368.6 L428.2 367.6 L429.1 366.6 L430.0 365.5 L430.9 364.4 L431.7 363.3 L432.6 362.2 L433.4 361.1 L434.2 360.0 L434.9 359.0 L435.7 357.9 L436.3 356.9 L437.0 355.9 L437.7 354.9 L438.3 354.0 L438.9 353.0 L439.6 352.0 L440.3 351.0 L440.9 350.1 L441.5 349.1 L442.2 348.2 L442.8 347.2 L443.4 346.3 L444.1 345.3 L444.7 344.4 L445.3 343.5 L446.0 342.5 L446.6 341.6 L447.3 340.6 L447.9 339.7 L448.5 338.7 L449.2 337.8 L449.8 336.8 L450.4 335.8 L451.1 334.8 L451.7 333.9 L452.3 332.9 L452.9 331.9 L453.6 330.9 L454.2 329.9 L454.8 328.9 L455.4 327.9 L456.1 326.9 L456.7 326.0 L457.3 325.0 L457.9 324.0 L458.6 323.0 L459.2 322.0 L459.8 321.0 L460.4 320.0 L461.1 319.0 L461.7 317.9 L462.3 316.9 L462.9 315.8 L463.6 314.8 L464.2 313.7 L464.8 312.6 L465.4 311.5 L466.1 310.3 L466.7 309.1 L467.3 307.9 L468.0 306.7 L468.6 305.5 L469.2 304.4 L469.8 303.2 L470.4 302.0 L471.0 300.7 L471.7 299.4 L472.3 298.1 L472.9 296.9 L473.4 295.8 L473.9 294.9 L474.2 294.2" fill="none" stroke="#fff" stroke-opacity="0.5" stroke-width="9" filter="url(#blur3)" transform="translate(-6 -3.5)"/>
<defs><linearGradient id="gsh" gradientUnits="userSpaceOnUse" x1="418" y1="0" x2="450" y2="0"><stop offset="0" stop-color="#8c8484" stop-opacity="0"/><stop offset="1" stop-color="#8c8484" stop-opacity="0.55"/></linearGradient></defs>
<path d="M410.1 384.1 L410.9 383.4 L411.6 382.8 L412.3 382.3 L412.8 381.9 L413.3 381.4 L413.9 381.0 L414.4 380.6 L414.9 380.1 L415.5 379.6 L416.1 379.0 L416.8 378.5 L417.5 377.9 L418.1 377.2 L418.8 376.6 L419.5 375.9 L420.3 375.3 L421.0 374.6 L421.8 373.9 L422.5 373.2 L423.3 372.5 L424.1 371.8 L424.9 371.1 L425.8 370.3 L426.6 369.5 L427.4 368.6 L428.2 367.6 L429.1 366.6 L430.0 365.5 L430.9 364.4 L431.7 363.3 L432.6 362.2 L433.4 361.1 L434.2 360.0 L434.9 359.0 L435.7 357.9 L436.3 356.9 L437.0 355.9 L437.7 354.9 L438.3 354.0 L438.9 353.0 L439.6 352.0 L440.3 351.0 L440.9 350.1 L441.5 349.1 L442.2 348.2 L442.8 347.2 L443.4 346.3 L444.1 345.3 L444.7 344.4 L445.3 343.5 L446.0 342.5 L446.6 341.6 L447.3 340.6 L447.9 339.7 L448.5 338.7 L449.2 337.8 L449.8 336.8 L450.4 335.8 L451.1 334.8 L451.7 333.9 L452.3 332.9 L452.9 331.9 L453.6 330.9 L454.2 329.9 L454.8 328.9 L455.4 327.9 L456.1 326.9 L456.7 326.0 L457.3 325.0 L457.9 324.0 L458.6 323.0 L459.2 322.0 L459.8 321.0 L460.4 320.0 L461.1 319.0 L461.7 317.9 L462.3 316.9 L462.9 315.8 L463.6 314.8 L464.2 313.7 L464.8 312.6 L465.4 311.5 L466.1 310.3 L466.7 309.1 L467.3 307.9 L468.0 306.7 L468.6 305.5 L469.2 304.4 L469.8 303.2 L470.4 302.0 L471.0 300.7 L471.7 299.4 L472.3 298.1 L472.9 296.9 L473.4 295.8 L473.9 294.9 L474.2 294.2" fill="none" stroke="url(#gsh)" stroke-width="4.5" filter="url(#blur2)" transform="translate(-1.6 -1.0)"/>
<path d="M190.8 449.5 L192.6 449.5 L195.1 449.5 L198.0 449.5 L201.2 449.5 L204.7 449.4 L208.2 449.4 L211.7 449.4 L215.0 449.3 L218.2 449.2 L221.4 449.2 L224.7 449.1 L227.9 449.0 L231.3 448.9 L234.8 448.8 L238.3 448.6 L242.0 448.3 L245.9 448.0 L250.0 447.6 L254.2 447.2 L258.6 446.7 L262.9 446.2 L267.1 445.7 L271.2 445.1 L275.0 444.5 L278.6 443.9 L282.0 443.2 L285.3 442.5 L288.4 441.8 L291.6 441.1 L294.7 440.3 L297.8 439.5 L301.0 438.6 L304.3 437.7 L307.8 436.7 L311.3 435.6 L314.8 434.6 L318.2 433.5 L321.4 432.4 L324.4 431.4 L327.0 430.5 L329.2 429.7 L331.1 428.9 L332.7 428.1 L334.2 427.4 L335.5 426.7 L336.9 426.0 L338.4 425.3 L340.0 424.6 L341.8 423.9 L343.8 423.1 L345.8 422.4 L347.8 421.7 L349.8 421.0 L351.7 420.3 L353.4 419.6 L355.0 418.9 L356.3 418.3 L357.5 417.6 L358.5 417.0 L359.4 416.4 L360.3 415.9 L361.2 415.3 L362.1 414.7 L363.0 414.1 L364.0 413.5 L365.0 412.9 L366.0 412.3 L366.9 411.7 L367.9 411.1 L368.9 410.5 L369.9 409.9 L370.9 409.3 L371.9 408.7 L372.9 408.0 L373.9 407.4 L374.9 406.8 L375.9 406.1 L376.9 405.5 L377.9 404.8 L378.9 404.2 L379.9 403.5 L380.9 402.9 L381.9 402.2 L382.9 401.6 L383.9 400.9 L384.9 400.2 L385.9 399.6 L386.9 399.0 L387.9 398.4 L388.9 397.9 L389.9 397.3 L390.9 396.8 L392.0 396.3 L393.0 395.7 L394.0 395.2 L395.0 394.6 L396.0 394.0 L397.0 393.4 L398.0 392.7 L399.0 392.1 L400.0 391.4 L401.0 390.8 L402.0 390.1 L403.0 389.4 L404.0 388.7 L405.1 387.9 L406.1 387.1 L407.2 386.3 L408.2 385.5 L409.2 384.8 L410.1 384.1 L410.9 383.4 L411.6 382.8 L412.3 382.3 L412.8 381.9 L413.3 381.4 L413.9 381.0 L414.4 380.6 L414.9 380.1 L415.5 379.6 L416.1 379.0 L416.8 378.5 L417.5 377.9 L418.1 377.2 L418.8 376.6 L419.5 375.9 L420.3 375.3 L421.0 374.6 L421.8 373.9 L422.5 373.2 L423.3 372.5 L424.1 371.8 L424.9 371.1 L425.8 370.3 L426.6 369.5 L427.4 368.6 L428.2 367.6 L429.1 366.6 L430.0 365.5 L430.9 364.4 L431.7 363.3 L432.6 362.2 L433.4 361.1 L434.2 360.0 L434.9 359.0 L435.7 357.9 L436.3 356.9 L437.0 355.9 L437.7 354.9 L438.3 354.0 L438.9 353.0 L439.6 352.0 L440.3 351.0 L440.9 350.1 L441.5 349.1 L442.2 348.2 L442.8 347.2 L443.4 346.3 L444.1 345.3 L444.7 344.4 L445.3 343.5 L446.0 342.5 L446.6 341.6 L447.3 340.6 L447.9 339.7 L448.5 338.7 L449.2 337.8 L449.8 336.8 L450.4 335.8 L451.1 334.8 L451.7 333.9 L452.3 332.9 L452.9 331.9 L453.6 330.9 L454.2 329.9 L454.8 328.9 L455.4 327.9 L456.1 326.9 L456.7 326.0 L457.3 325.0 L457.9 324.0 L458.6 323.0 L459.2 322.0 L459.8 321.0 L460.4 320.0 L461.1 319.0 L461.7 317.9 L462.3 316.9 L462.9 315.8 L463.6 314.8 L464.2 313.7 L464.8 312.6 L465.4 311.5 L466.1 310.3 L466.7 309.1 L467.3 307.9 L468.0 306.7 L468.6 305.5 L469.2 304.4 L469.8 303.2 L470.4 302.0 L471.0 300.7 L471.7 299.4 L472.3 298.1 L472.9 296.9 L473.4 295.8 L473.9 294.9 L474.2 294.2 L452.5 298.6 L489.8 259.0 L508.3 307.8 L492.7 300.8 L492.3 302.0 L491.8 303.6 L491.2 305.5 L490.5 307.6 L489.8 309.8 L489.1 312.0 L488.3 314.1 L487.6 315.9 L486.9 317.6 L486.1 319.2 L485.4 320.7 L484.6 322.2 L483.8 323.7 L483.0 325.1 L482.2 326.6 L481.4 328.0 L480.6 329.5 L479.8 330.9 L479.0 332.3 L478.2 333.7 L477.4 335.1 L476.6 336.5 L475.8 337.9 L475.0 339.2 L474.2 340.5 L473.5 341.8 L472.7 343.1 L472.0 344.3 L471.2 345.5 L470.5 346.8 L469.7 348.0 L468.8 349.3 L467.9 350.6 L467.0 351.9 L466.0 353.2 L465.0 354.6 L464.0 355.9 L462.9 357.2 L461.9 358.4 L460.9 359.6 L459.9 360.7 L458.8 361.8 L457.8 362.9 L456.7 363.9 L455.7 364.9 L454.6 365.9 L453.6 366.8 L452.6 367.8 L451.6 368.7 L450.7 369.6 L449.7 370.5 L448.8 371.4 L447.8 372.2 L446.9 373.1 L445.9 374.0 L444.8 374.9 L443.7 375.9 L442.5 376.9 L441.2 378.0 L439.9 379.0 L438.6 380.1 L437.4 381.1 L436.2 382.1 L435.0 383.0 L433.9 383.8 L432.9 384.6 L431.8 385.3 L430.8 386.0 L429.9 386.7 L428.9 387.4 L427.9 388.1 L426.9 388.8 L425.9 389.5 L424.9 390.3 L423.9 391.1 L422.9 391.8 L421.9 392.6 L420.9 393.4 L419.9 394.1 L418.9 394.9 L417.9 395.7 L416.9 396.5 L415.9 397.3 L414.9 398.1 L413.9 398.9 L412.9 399.6 L411.9 400.4 L410.9 401.1 L409.9 401.8 L408.9 402.5 L407.9 403.1 L406.9 403.8 L406.0 404.4 L405.0 405.0 L404.0 405.6 L403.0 406.2 L402.0 406.8 L401.0 407.3 L400.0 407.8 L399.0 408.3 L398.0 408.8 L397.0 409.2 L396.0 409.7 L395.0 410.2 L394.0 410.7 L393.0 411.1 L392.0 411.6 L390.9 412.0 L389.9 412.5 L388.9 413.0 L387.9 413.5 L386.9 414.0 L385.9 414.6 L384.9 415.2 L383.9 415.8 L382.9 416.4 L381.9 417.1 L380.9 417.7 L379.9 418.4 L378.9 419.0 L377.9 419.6 L376.9 420.3 L375.9 420.9 L374.9 421.6 L373.9 422.2 L372.9 422.9 L371.9 423.5 L370.9 424.1 L369.9 424.7 L368.9 425.3 L367.9 425.8 L366.9 426.4 L366.0 426.9 L365.0 427.5 L364.0 428.0 L363.0 428.5 L362.1 429.0 L361.2 429.4 L360.3 429.8 L359.4 430.2 L358.5 430.6 L357.5 431.0 L356.3 431.5 L355.0 432.0 L353.4 432.6 L351.7 433.2 L349.8 433.8 L347.8 434.4 L345.8 435.1 L343.8 435.8 L341.8 436.4 L340.0 437.0 L338.4 437.6 L336.9 438.1 L335.5 438.7 L334.2 439.2 L332.7 439.7 L331.1 440.3 L329.2 440.8 L327.0 441.4 L324.4 442.0 L321.4 442.7 L318.2 443.4 L314.8 444.1 L311.3 444.8 L307.8 445.5 L304.3 446.1 L301.0 446.7 L297.8 447.3 L294.7 447.8 L291.6 448.3 L288.4 448.8 L285.3 449.2 L282.0 449.7 L278.6 450.0 L275.0 450.4 L271.2 450.7 L267.1 451.0 L262.9 451.2 L258.6 451.4 L254.2 451.6 L250.0 451.8 L245.9 451.9 L242.0 452.0 L238.3 452.1 L234.8 452.1 L231.3 452.1 L227.9 452.1 L224.7 452.0 L221.4 452.0 L218.2 451.9 L215.0 451.9 L211.7 451.8 L208.2 451.8 L204.7 451.7 L201.2 451.6 L198.0 451.5 L195.1 451.4 L192.6 451.3 L190.8 451.3Z" fill="url(#arr)"/>
<g clip-path="url(#carr)">
<path d="M271.2 445.1 L275.0 444.5 L278.6 443.9 L282.0 443.2 L285.3 442.5 L288.4 441.8 L291.6 441.1 L294.7 440.3 L297.8 439.5 L301.0 438.6 L304.3 437.7 L307.8 436.7 L311.3 435.6 L314.8 434.6 L318.2 433.5 L321.4 432.4 L324.4 431.4 L327.0 430.5 L329.2 429.7 L331.1 428.9 L332.7 428.1 L334.2 427.4 L335.5 426.7 L336.9 426.0 L338.4 425.3 L340.0 424.6 L341.8 423.9 L343.8 423.1 L345.8 422.4 L347.8 421.7 L349.8 421.0 L351.7 420.3 L353.4 419.6 L355.0 418.9 L356.3 418.3 L357.5 417.6 L358.5 417.0 L359.4 416.4 L360.3 415.9 L361.2 415.3 L362.1 414.7 L363.0 414.1 L364.0 413.5 L365.0 412.9 L366.0 412.3 L366.9 411.7 L367.9 411.1 L368.9 410.5 L369.9 409.9 L370.9 409.3 L371.9 408.7 L372.9 408.0 L373.9 407.4 L374.9 406.8 L375.9 406.1 L376.9 405.5 L377.9 404.8 L378.9 404.2 L379.9 403.5 L380.9 402.9 L381.9 402.2 L382.9 401.6 L383.9 400.9 L384.9 400.2 L385.9 399.6 L386.9 399.0 L387.9 398.4 L388.9 397.9 L389.9 397.3 L390.9 396.8 L392.0 396.3 L393.0 395.7 L394.0 395.2 L395.0 394.6 L396.0 394.0 L397.0 393.4 L398.0 392.7 L399.0 392.1" fill="none" stroke="#fff" stroke-opacity="0.4" stroke-width="4" filter="url(#blur2)"/>
<path d="M301.0 446.7 L304.3 446.1 L307.8 445.5 L311.3 444.8 L314.8 444.1 L318.2 443.4 L321.4 442.7 L324.4 442.0 L327.0 441.4 L329.2 440.8 L331.1 440.3 L332.7 439.7 L334.2 439.2 L335.5 438.7 L336.9 438.1 L338.4 437.6 L340.0 437.0 L341.8 436.4 L343.8 435.8 L345.8 435.1 L347.8 434.4 L349.8 433.8 L351.7 433.2 L353.4 432.6 L355.0 432.0 L356.3 431.5 L357.5 431.0 L358.5 430.6 L359.4 430.2 L360.3 429.8 L361.2 429.4 L362.1 429.0 L363.0 428.5 L364.0 428.0 L365.0 427.5 L366.0 426.9 L366.9 426.4 L367.9 425.8 L368.9 425.3 L369.9 424.7 L370.9 424.1 L371.9 423.5 L372.9 422.9 L373.9 422.2 L374.9 421.6 L375.9 420.9 L376.9 420.3 L377.9 419.6 L378.9 419.0 L379.9 418.4 L380.9 417.7 L381.9 417.1 L382.9 416.4 L383.9 415.8 L384.9 415.2 L385.9 414.6 L386.9 414.0 L387.9 413.5 L388.9 413.0 L389.9 412.5 L390.9 412.0 L392.0 411.6 L393.0 411.1 L394.0 410.7 L395.0 410.2 L396.0 409.7 L397.0 409.2 L398.0 408.8 L399.0 408.3 L400.0 407.8 L401.0 407.3 L402.0 406.8 L403.0 406.2 L404.0 405.6 L405.0 405.0 L406.0 404.4 L406.9 403.8 L407.9 403.1 L408.9 402.5 L409.9 401.8 L410.9 401.1 L411.9 400.4 L412.9 399.6 L413.9 398.9 L414.9 398.1 L415.9 397.3 L416.9 396.5 L417.9 395.7 L418.9 394.9 L419.9 394.1" fill="none" stroke="#fff" stroke-opacity="0.28" stroke-width="3.5" filter="url(#blur2)"/>
<path d="M430.8 386.0 L431.8 385.3 L432.9 384.6 L433.9 383.8 L435.0 383.0 L436.2 382.1 L437.4 381.1 L438.6 380.1 L439.9 379.0 L441.2 378.0 L442.5 376.9 L443.7 375.9 L444.8 374.9 L445.9 374.0 L446.9 373.1 L447.8 372.2 L448.8 371.4 L449.7 370.5 L450.7 369.6 L451.6 368.7 L452.6 367.8 L453.6 366.8 L454.6 365.9 L455.7 364.9 L456.7 363.9 L457.8 362.9 L458.8 361.8 L459.9 360.7 L460.9 359.6 L461.9 358.4 L462.9 357.2 L464.0 355.9 L465.0 354.6 L466.0 353.2 L467.0 351.9 L467.9 350.6 L468.8 349.3 L469.7 348.0 L470.5 346.8 L471.2 345.5 L472.0 344.3 L472.7 343.1 L473.5 341.8 L474.2 340.5 L475.0 339.2 L475.8 337.9 L476.6 336.5 L477.4 335.1 L478.2 333.7 L479.0 332.3 L479.8 330.9 L480.6 329.5 L481.4 328.0 L482.2 326.6 L483.0 325.1 L483.8 323.7 L484.6 322.2 L485.4 320.7 L486.1 319.2 L486.9 317.6 L487.6 315.9 L488.3 314.1 L489.1 312.0 L489.8 309.8 L490.5 307.6 L491.2 305.5 L491.8 303.6 L492.3 302.0 L492.7 300.8" fill="none" stroke="#e84a4a" stroke-opacity="0.25" stroke-width="4" filter="url(#blur2)"/>
</g>
<defs><linearGradient id="hl" gradientUnits="userSpaceOnUse" x1="392" y1="0" x2="425" y2="0"><stop offset="0" stop-color="#fff" stop-opacity="0"/><stop offset="1" stop-color="#fff" stop-opacity="0.9"/></linearGradient><linearGradient id="hl2" gradientUnits="userSpaceOnUse" x1="392" y1="0" x2="430" y2="0"><stop offset="0" stop-color="#ffd6d6" stop-opacity="0"/><stop offset="1" stop-color="#ffd6d6" stop-opacity="0.75"/></linearGradient></defs>
<path d="M392.3 409.6 L393.3 409.1 L394.3 408.7 L395.3 408.2 L396.3 407.7 L397.3 407.2 L398.3 406.8 L399.3 406.3 L400.2 405.8 L401.2 405.3 L402.2 404.7 L403.1 404.2 L404.1 403.6 L405.1 403.0 L406.0 402.4 L407.0 401.7 L408.0 401.1 L408.9 400.4 L409.9 399.7 L410.9 399.0 L411.9 398.3 L412.8 397.5 L413.8 396.7 L414.8 395.9 L415.8 395.1 L416.9 394.3 L417.9 393.6 L418.9 392.8 L419.9 392.0 L420.9 391.2 L421.9 390.5 L422.9 389.7 L423.9 388.9 L424.9 388.2 L425.9 387.4 L426.9 386.7 L427.9 386.0 L428.9 385.3 L429.9 384.6 L430.9 383.9 L431.9 383.2 L432.9 382.5 L434.0 381.7 L435.1 380.8 L436.3 379.8 L437.6 378.8 L438.8 377.7 L440.1 376.7 L441.4 375.6 L442.6 374.6 L443.7 373.6 L444.7 372.7 L445.8 371.8 L446.7 370.9 L447.6 370.1 L448.6 369.3 L449.5 368.4 L450.4 367.5 L451.4 366.6 L452.5 365.6 L453.5 364.6 L454.5 363.7 L455.6 362.7 L456.6 361.7 L457.6 360.6 L458.6 359.6 L459.6 358.5 L460.6 357.3 L461.6 356.1 L462.6 354.8 L463.6 353.5 L464.6 352.2 L465.6 350.9 L466.5 349.6 L467.4 348.3 L468.2 347.1 L469.0 345.9 L469.8 344.7 L470.5 343.4 L471.3 342.2 L472.0 340.9 L472.8 339.7 L473.5 338.3 L474.3 337.0 L475.1 335.6 L475.9 334.3 L476.7 332.9 L477.5 331.5 L478.3 330.1 L479.1 328.6 L479.9 327.2 L480.7 325.7 L481.5 324.3 L482.3 322.8 L483.1 321.4 L483.9 319.9 L484.6 318.4 L485.3 316.9 L486.0 315.3 L486.7 313.5 L487.5 311.4 L488.2 309.3 L488.9 307.1 L489.6 305.0 L490.2 303.1 L490.7 301.5 L491.1 300.3" fill="none" stroke="url(#hl2)" stroke-width="0.8"/>
<path d="M393.9 397.4 L394.9 396.8 L396.0 396.2 L397.0 395.6 L398.0 395.0 L399.0 394.3 L400.0 393.7 L401.1 393.0 L402.1 392.3 L403.1 391.7 L404.1 391.0 L405.1 390.2 L406.2 389.4 L407.3 388.6 L408.3 387.8 L409.3 387.0 L410.3 386.3 L411.2 385.5 L412.1 384.9 L412.8 384.3 L413.4 383.8 L414.0 383.3 L414.6 382.9 L415.1 382.5 L415.6 382.0 L416.1 381.6 L416.8 381.0 L417.4 380.5 L418.1 379.9 L418.7 379.3 L419.4 378.6 L420.1 378.0 L420.8 377.3 L421.6 376.7 L422.3 376.0 L423.0 375.3 L423.8 374.7 L424.6 374.0 L425.4 373.2 L426.2 372.5 L427.1 371.7 L427.9 370.8 L428.8 369.9 L429.7 368.9 L430.6 367.8 L431.5 366.7 L432.4 365.6 L433.2 364.4 L434.1 363.3 L434.9 362.2 L435.7 361.1 L436.5 360.1 L437.2 359.0 L437.9 358.0 L438.6 357.0 L439.2 356.0 L439.9 355.0 L440.5 354.0 L441.2 353.1 L441.8 352.1 L442.5 351.1 L443.1 350.2 L443.7 349.2 L444.4 348.3 L445.0 347.3 L445.6 346.4 L446.3 345.5 L446.9 344.5 L447.6 343.6 L448.2 342.6 L448.8 341.7 L449.5 340.7 L450.1 339.8 L450.8 338.8 L451.4 337.8 L452.0 336.9 L452.7 335.9 L453.3 334.9 L453.9 333.9 L454.5 332.9 L455.2 331.9 L455.8 330.9 L456.4 329.9 L457.0 328.9 L457.7 328.0 L458.3 327.0 L458.9 326.0 L459.5 325.0 L460.2 324.0 L460.8 323.0 L461.4 322.0 L462.0 321.0 L462.7 319.9 L463.3 318.9 L463.9 317.9 L464.6 316.8 L465.2 315.7 L465.8 314.6 L466.5 313.5 L467.1 312.4 L467.7 311.2 L468.4 310.0 L469.0 308.8 L469.7 307.6 L470.3 306.4 L470.9 305.2 L471.5 304.1 L472.1 302.8 L472.7 301.6 L473.4 300.2 L474.0 298.9 L474.6 297.7 L475.1 296.6 L475.6 295.7 L475.9 295.0" fill="none" stroke="url(#hl)" stroke-width="0.9"/>
<path d="M431.0 364.5 L431.9 363.4 L432.7 362.3 L433.6 361.2 L434.4 360.1 L435.1 359.1 L435.8 358.1 L436.5 357.0 L437.2 356.0 L437.8 355.1 L438.5 354.1 L439.1 353.1 L439.8 352.1 L440.4 351.1 L441.1 350.2 L441.7 349.2 L442.3 348.3 L443.0 347.3 L443.6 346.4 L444.2 345.5 L444.9 344.5 L445.5 343.6 L446.1 342.6 L446.8 341.7 L447.4 340.7 L448.1 339.8 L448.7 338.8 L449.3 337.9 L450.0 336.9 L450.6 335.9 L451.2 335.0 L451.9 334.0 L452.5 333.0 L453.1 332.0 L453.7 331.0 L454.3 330.0 L455.0 329.0 L455.6 328.0 L456.2 327.0 L456.8 326.1 L457.5 325.1 L458.1 324.1 L458.7 323.1 L459.3 322.1 L460.0 321.1 L460.6 320.1 L461.2 319.1 L461.8 318.0 L462.5 317.0 L463.1 315.9 L463.7 314.9 L464.3 313.8 L465.0 312.7 L465.6 311.6 L466.2 310.4 L466.9 309.2 L467.5 308.0 L468.1 306.8 L468.8 305.6 L469.4 304.5 L470.0 303.3 L470.6 302.1 L471.2 300.8 L471.9 299.5 L472.5 298.2 L473.1 297.0 L473.6 295.9 L474.0 295.0 L474.4 294.3" fill="none" stroke="url(#hl)" stroke-width="0.7" opacity="0.6"/>
<path d="M455.6 297.6 L488.4 262.8" fill="none" stroke="#ffd6d6" stroke-opacity="0.7" stroke-width="0.8"/>
<path d="M209.0 432.0 L209.0 450.0" fill="none" stroke="#1db3ea" stroke-width="1.05"/>
<path d="M242.0 450.0 L242.0 459.2" fill="none" stroke="#1db3ea" stroke-width="1.05"/>
<path d="M272.5 431.5 L272.5 448.2" fill="none" stroke="#1db3ea" stroke-width="1.05"/>
<path d="M303.4 441.6 L303.4 458.5" fill="none" stroke="#1db3ea" stroke-width="1.05"/>
<path d="M327.1 420.3 L327.1 434.6" fill="none" stroke="#1db3ea" stroke-width="1.05"/>
<path d="M346.2 427.6 L346.2 444.2" fill="none" stroke="#1db3ea" stroke-width="1.05"/>
<path d="M363.8 404.0 L363.8 420.4" fill="none" stroke="#1db3ea" stroke-width="1.05"/>
<path d="M381.9 411.3 L381.9 438.5" fill="none" stroke="#1db3ea" stroke-width="1.05"/>
<path d="M389.9 375.6 L389.9 405.3" fill="none" stroke="#1db3ea" stroke-width="1.05"/>
<path d="M411.7 390.3 L411.7 416.5" fill="none" stroke="#1db3ea" stroke-width="1.05"/>
<path d="M420.6 352.0 L420.6 383.1" fill="none" stroke="#1db3ea" stroke-width="1.05"/>
<path d="M445.0 361.3 L445.0 396.2" fill="none" stroke="#1db3ea" stroke-width="1.05"/>
<path d="M460.3 341.4 L460.3 375.3 L477.5 375.3" fill="none" stroke="#1db3ea" stroke-width="1.05"/>
<path d="M471.0 324.8 L471.0 342.6 L481.3 342.6" fill="none" stroke="#1db3ea" stroke-width="1.05"/>
<path d="M441.5 303.2 L479.6 303.2 L479.6 311.7" fill="none" stroke="#1db3ea" stroke-width="1.05"/>
<circle cx="209.0" cy="450.0" r="2.3" fill="url(#dot)"/>
<circle cx="242.0" cy="450.0" r="2.3" fill="url(#dot)"/>
<circle cx="272.5" cy="448.2" r="2.3" fill="url(#dot)"/>
<circle cx="303.4" cy="441.6" r="2.3" fill="url(#dot)"/>
<circle cx="327.1" cy="434.6" r="2.3" fill="url(#dot)"/>
<circle cx="346.2" cy="427.6" r="2.3" fill="url(#dot)"/>
<circle cx="363.8" cy="420.4" r="2.3" fill="url(#dot)"/>
<circle cx="381.9" cy="411.3" r="2.3" fill="url(#dot)"/>
<circle cx="389.9" cy="405.3" r="2.3" fill="url(#dot)"/>
<circle cx="411.7" cy="390.3" r="2.3" fill="url(#dot)"/>
<circle cx="420.6" cy="383.1" r="2.3" fill="url(#dot)"/>
<circle cx="445.0" cy="361.3" r="2.3" fill="url(#dot)"/>
<circle cx="460.3" cy="341.4" r="2.3" fill="url(#dot)"/>
<circle cx="471.0" cy="324.8" r="2.3" fill="url(#dot)"/>
<circle cx="479.6" cy="311.7" r="2.3" fill="url(#dot)"/>
<defs><linearGradient id="ga" x1="0" x2="0" y1="0" y2="1"><stop offset="0" stop-color="#5e5e5c"/><stop offset="0.45" stop-color="#8d8d8a"/><stop offset="1" stop-color="#d2d2d0"/></linearGradient><radialGradient id="gs" cx="0.5" cy="0.35" r="0.7"><stop offset="0" stop-color="#f2e23a"/><stop offset="0.6" stop-color="#e6d422"/><stop offset="1" stop-color="#a89a1c"/></radialGradient></defs>
<rect x="197.7" y="412.9" width="24.5" height="19.6" fill="url(#ga)"/>
<ellipse cx="210" cy="430.4" rx="8.5" ry="1.3" fill="#444" opacity="0.35"/>
<path d="M200.7 427.1 L200.8 426.6 L201.0 425.9 L201.1 425.1 L201.3 424.3 L201.5 423.5 L201.7 422.8 L201.9 422.0 L202.1 421.3 L202.3 420.5 L202.5 419.8 L202.7 419.1 L202.9 418.4 L203.1 417.7 L203.3 417.0 L203.6 416.5 L204.0 416.1 L204.4 415.7 L204.8 415.4 L205.3 415.2 L205.8 415.1 L206.4 415.1 L207.0 415.3 L207.6 415.5 L208.2 415.7 L208.7 415.8 L209.1 415.7 L209.5 415.4 L209.8 415.1 L210.1 414.8 L210.5 414.7 L211.0 414.7 L211.5 414.8 L212.1 415.0 L212.6 415.2 L213.1 415.5 L213.5 415.8 L213.8 416.3 L214.2 416.7 L214.5 417.2 L214.9 417.6 L215.4 418.0 L215.9 418.4 L216.5 418.7 L217.0 419.1 L217.5 419.5 L217.9 419.9 L218.2 420.3 L218.5 420.7 L218.8 421.1 L218.9 421.6 L219.0 422.2 L218.9 422.9 L218.8 423.6 L218.7 424.2 L218.5 424.9 L218.3 425.5 L218.1 426.1 L217.9 426.7 L217.5 427.3 L217.1 427.8 L216.5 428.3 L215.9 428.8 L215.2 429.3 L214.4 429.7 L213.5 430.0 L212.6 430.3 L211.5 430.5 L210.5 430.6 L209.4 430.7 L208.4 430.7 L207.4 430.7 L206.5 430.6 L205.6 430.4 L204.7 430.2 L204.0 430.0 L203.4 429.7 L202.8 429.5 L202.3 429.1 L201.9 428.8 L201.5 428.5 L201.2 428.2 L201.0 427.9 L200.9 427.6 L200.8 427.3 L200.7 427.1Z" fill="url(#gs)"/>
<circle cx="206.4" cy="419.2" r="1.6" fill="#f8ec5a" opacity="0.55"/>
<circle cx="211.0" cy="418.2" r="1.8" fill="#f8ec5a" opacity="0.55"/>
<circle cx="214.6" cy="421.4" r="1.7" fill="#f8ec5a" opacity="0.55"/>
<circle cx="208.6" cy="423.6" r="1.9" fill="#f8ec5a" opacity="0.55"/>
<circle cx="213.0" cy="425.6" r="1.6" fill="#f8ec5a" opacity="0.55"/>
<circle cx="204.6" cy="425.4" r="1.5" fill="#f8ec5a" opacity="0.55"/>
<path d="M201.4 427.6 C203 429.6 206 430.4 209 430.4" fill="none" stroke="#8a7c14" stroke-width="0.9" opacity="0.6"/>
<rect x="229.3" y="459.1" width="25.2" height="20.8" fill="#ffffff"/>
<line x1="234.4" y1="466.0" x2="237.2" y2="474.0" stroke="#141414" stroke-width="2.40" stroke-linecap="round"/>
<line x1="237.2" y1="474.0" x2="246.8" y2="474.0" stroke="#141414" stroke-width="2.40" stroke-linecap="round"/>
<line x1="246.8" y1="474.0" x2="249.0" y2="466.0" stroke="#141414" stroke-width="2.40" stroke-linecap="round"/>
<line x1="241.2" y1="461.9" x2="237.8" y2="463.9" stroke="#e01818" stroke-width="2.40" stroke-linecap="round"/>
<line x1="237.8" y1="463.9" x2="234.4" y2="466.0" stroke="#141414" stroke-width="2.40" stroke-linecap="round"/>
<line x1="241.2" y1="461.9" x2="245.1" y2="463.9" stroke="#e01818" stroke-width="2.40" stroke-linecap="round"/>
<line x1="245.1" y1="463.9" x2="249.0" y2="466.0" stroke="#141414" stroke-width="2.40" stroke-linecap="round"/>
<line x1="234.4" y1="466.0" x2="232.0" y2="463.6" stroke="#333" stroke-width="0.90" stroke-linecap="round"/>
<circle cx="232.0" cy="463.6" r="1.00" fill="#b8b8b8"/>
<line x1="234.4" y1="466.0" x2="232.2" y2="468.4" stroke="#333" stroke-width="0.90" stroke-linecap="round"/>
<circle cx="232.2" cy="468.4" r="1.00" fill="#b8b8b8"/>
<line x1="249.0" y1="466.0" x2="251.4" y2="463.6" stroke="#333" stroke-width="0.90" stroke-linecap="round"/>
<circle cx="251.4" cy="463.6" r="1.00" fill="#b8b8b8"/>
<line x1="249.0" y1="466.0" x2="251.4" y2="468.4" stroke="#333" stroke-width="0.90" stroke-linecap="round"/>
<circle cx="251.4" cy="468.4" r="1.00" fill="#b8b8b8"/>
<line x1="237.2" y1="474.0" x2="234.8" y2="476.6" stroke="#333" stroke-width="0.90" stroke-linecap="round"/>
<circle cx="234.8" cy="476.6" r="1.00" fill="#b8b8b8"/>
<line x1="237.2" y1="474.0" x2="238.2" y2="477.8" stroke="#333" stroke-width="0.90" stroke-linecap="round"/>
<circle cx="238.2" cy="477.8" r="1.00" fill="#b8b8b8"/>
<line x1="246.8" y1="474.0" x2="249.2" y2="476.6" stroke="#333" stroke-width="0.90" stroke-linecap="round"/>
<circle cx="249.2" cy="476.6" r="1.00" fill="#b8b8b8"/>
<line x1="246.8" y1="474.0" x2="245.8" y2="477.8" stroke="#333" stroke-width="0.90" stroke-linecap="round"/>
<circle cx="245.8" cy="477.8" r="1.00" fill="#b8b8b8"/>
<circle cx="234.4" cy="466.0" r="1.50" fill="#111"/>
<circle cx="249.0" cy="466.0" r="1.50" fill="#111"/>
<circle cx="237.2" cy="474.0" r="1.50" fill="#111"/>
<circle cx="246.8" cy="474.0" r="1.50" fill="#111"/>
<circle cx="241.2" cy="461.9" r="1.70" fill="#e81a1a"/>
<rect x="259.9" y="401.8" width="27.4" height="29.7" fill="#ffffff"/>
<line x1="274.7" y1="418.4" x2="274.7" y2="414.1" stroke="#22b33a" stroke-width="1.40" stroke-linecap="round"/>
<line x1="274.7" y1="414.1" x2="274.7" y2="409.8" stroke="#e01818" stroke-width="1.40" stroke-linecap="round"/>
<line x1="274.7" y1="418.4" x2="274.7" y2="422.6" stroke="#22b33a" stroke-width="1.40" stroke-linecap="round"/>
<line x1="274.7" y1="422.6" x2="274.7" y2="426.8" stroke="#e01818" stroke-width="1.40" stroke-linecap="round"/>
<line x1="274.7" y1="418.4" x2="279.1" y2="418.4" stroke="#22b33a" stroke-width="1.40" stroke-linecap="round"/>
<line x1="279.1" y1="418.4" x2="283.5" y2="418.4" stroke="#e01818" stroke-width="1.40" stroke-linecap="round"/>
<line x1="274.7" y1="418.4" x2="270.2" y2="418.6" stroke="#22b33a" stroke-width="1.40" stroke-linecap="round"/>
<line x1="270.2" y1="418.6" x2="265.8" y2="418.8" stroke="#e01818" stroke-width="1.40" stroke-linecap="round"/>
<line x1="265.8" y1="418.8" x2="264.5" y2="414.1" stroke="#e86a6a" stroke-width="1.20" stroke-linecap="round"/>
<line x1="264.5" y1="414.1" x2="263.2" y2="409.5" stroke="#c98ad8" stroke-width="1.20" stroke-linecap="round"/>
<circle cx="274.7" cy="409.8" r="1.60" fill="#e01515"/>
<circle cx="274.7" cy="426.8" r="1.60" fill="#e01515"/>
<circle cx="283.5" cy="418.4" r="1.60" fill="#e01515"/>
<circle cx="265.8" cy="418.8" r="1.60" fill="#e01515"/>
<circle cx="274.7" cy="418.4" r="1.85" fill="#1fae36"/>
<circle cx="263.2" cy="409.5" r="1.65" fill="#c46ad6"/>
<rect x="292.6" y="458.3" width="22.3" height="21.6" fill="#ffffff"/>
<line x1="303.0" y1="469.6" x2="298.7" y2="465.0" stroke="#555" stroke-width="0.80" stroke-linecap="round"/>
<line x1="303.0" y1="469.6" x2="307.9" y2="465.0" stroke="#555" stroke-width="0.80" stroke-linecap="round"/>
<line x1="303.0" y1="469.6" x2="301.2" y2="471.6" stroke="#555" stroke-width="0.80" stroke-linecap="round"/>
<line x1="301.2" y1="471.6" x2="299.5" y2="473.6" stroke="#e01818" stroke-width="0.80" stroke-linecap="round"/>
<line x1="303.0" y1="469.6" x2="305.1" y2="471.6" stroke="#555" stroke-width="0.80" stroke-linecap="round"/>
<line x1="305.1" y1="471.6" x2="307.3" y2="473.6" stroke="#e01818" stroke-width="0.80" stroke-linecap="round"/>
<line x1="299.5" y1="473.6" x2="300.5" y2="475.8" stroke="#e01818" stroke-width="0.70" stroke-linecap="round"/>
<line x1="300.5" y1="475.8" x2="301.5" y2="478.0" stroke="#777" stroke-width="0.70" stroke-linecap="round"/>
<line x1="307.3" y1="473.6" x2="306.5" y2="475.8" stroke="#e01818" stroke-width="0.70" stroke-linecap="round"/>
<line x1="306.5" y1="475.8" x2="305.7" y2="478.0" stroke="#777" stroke-width="0.70" stroke-linecap="round"/>
<line x1="301.5" y1="478.0" x2="305.7" y2="478.0" stroke="#999" stroke-width="0.60" stroke-linecap="round"/>
<line x1="298.7" y1="465.0" x2="295.9" y2="461.3" stroke="#8aa" stroke-width="0.60" stroke-linecap="round"/>
<circle cx="295.9" cy="461.3" r="0.95" fill="#3a92dc"/>
<line x1="298.7" y1="465.0" x2="300.8" y2="460.0" stroke="#8aa" stroke-width="0.60" stroke-linecap="round"/>
<circle cx="300.8" cy="460.0" r="0.95" fill="#3a92dc"/>
<line x1="298.7" y1="465.0" x2="294.0" y2="466.2" stroke="#8aa" stroke-width="0.60" stroke-linecap="round"/>
<circle cx="294.0" cy="466.2" r="0.95" fill="#3a92dc"/>
<line x1="307.9" y1="465.0" x2="307.3" y2="459.7" stroke="#8aa" stroke-width="0.60" stroke-linecap="round"/>
<circle cx="307.3" cy="459.7" r="0.95" fill="#3a92dc"/>
<line x1="307.9" y1="465.0" x2="311.0" y2="461.9" stroke="#8aa" stroke-width="0.60" stroke-linecap="round"/>
<circle cx="311.0" cy="461.9" r="0.95" fill="#3a92dc"/>
<line x1="307.9" y1="465.0" x2="313.2" y2="466.5" stroke="#8aa" stroke-width="0.60" stroke-linecap="round"/>
<circle cx="313.2" cy="466.5" r="0.95" fill="#3a92dc"/>
<circle cx="299.5" cy="473.6" r="1.00" fill="#e01818"/>
<circle cx="307.3" cy="473.6" r="1.00" fill="#e01818"/>
<circle cx="298.7" cy="465.0" r="0.85" fill="#444"/>
<circle cx="307.9" cy="465.0" r="0.85" fill="#444"/>
<circle cx="303.0" cy="469.6" r="0.95" fill="#333"/>
<circle cx="301.5" cy="478.0" r="0.70" fill="#444"/>
<circle cx="305.7" cy="478.0" r="0.70" fill="#444"/>
<rect x="309.4" y="400.4" width="31.6" height="20.0" fill="#ffffff"/>
<line x1="325.2" y1="416.9" x2="322.2" y2="413.4" stroke="#e01818" stroke-width="1.30" stroke-linecap="round"/>
<line x1="322.2" y1="413.4" x2="319.3" y2="409.9" stroke="#444" stroke-width="1.30" stroke-linecap="round"/>
<line x1="325.2" y1="416.9" x2="328.2" y2="413.4" stroke="#e01818" stroke-width="1.30" stroke-linecap="round"/>
<line x1="328.2" y1="413.4" x2="331.2" y2="409.9" stroke="#444" stroke-width="1.30" stroke-linecap="round"/>
<line x1="319.3" y1="409.9" x2="311.9" y2="410.5" stroke="#5a5a5a" stroke-width="1.00" stroke-linecap="round"/>
<circle cx="311.9" cy="410.5" r="1.05" fill="#6e6e6e"/>
<line x1="319.3" y1="409.9" x2="319.0" y2="403.5" stroke="#5a5a5a" stroke-width="1.00" stroke-linecap="round"/>
<circle cx="319.0" cy="403.5" r="1.05" fill="#6e6e6e"/>
<line x1="319.3" y1="409.9" x2="314.6" y2="416.9" stroke="#5a5a5a" stroke-width="1.00" stroke-linecap="round"/>
<circle cx="314.6" cy="416.9" r="1.05" fill="#6e6e6e"/>
<line x1="331.2" y1="409.9" x2="331.3" y2="403.5" stroke="#5a5a5a" stroke-width="1.00" stroke-linecap="round"/>
<circle cx="331.3" cy="403.5" r="1.05" fill="#6e6e6e"/>
<line x1="331.2" y1="409.9" x2="338.8" y2="410.5" stroke="#5a5a5a" stroke-width="1.00" stroke-linecap="round"/>
<circle cx="338.8" cy="410.5" r="1.05" fill="#6e6e6e"/>
<line x1="331.2" y1="409.9" x2="335.6" y2="416.9" stroke="#5a5a5a" stroke-width="1.00" stroke-linecap="round"/>
<circle cx="335.6" cy="416.9" r="1.05" fill="#6e6e6e"/>
<circle cx="319.3" cy="409.9" r="1.60" fill="#2e2e2e"/>
<circle cx="331.2" cy="409.9" r="1.60" fill="#2e2e2e"/>
<circle cx="325.2" cy="416.9" r="1.60" fill="#e01818"/>
<rect x="333.4" y="444.2" width="26.4" height="24.0" fill="#ffffff"/>
<line x1="353.3" y1="455.8" x2="355.5" y2="455.8" stroke="#666" stroke-width="1.30" stroke-linecap="round"/>
<line x1="355.5" y1="455.8" x2="357.6" y2="455.7" stroke="#bbb" stroke-width="1.30" stroke-linecap="round"/>
<circle cx="357.6" cy="455.7" r="0.75" fill="#333"/>
<line x1="351.1" y1="460.5" x2="351.0" y2="463.6" stroke="#666" stroke-width="1.30" stroke-linecap="round"/>
<line x1="351.0" y1="463.6" x2="350.9" y2="466.7" stroke="#bbb" stroke-width="1.30" stroke-linecap="round"/>
<circle cx="350.9" cy="466.7" r="0.75" fill="#333"/>
<line x1="344.9" y1="460.5" x2="344.9" y2="463.6" stroke="#666" stroke-width="1.30" stroke-linecap="round"/>
<line x1="344.9" y1="463.6" x2="344.9" y2="466.7" stroke="#bbb" stroke-width="1.30" stroke-linecap="round"/>
<circle cx="344.9" cy="466.7" r="0.75" fill="#333"/>
<line x1="344.9" y1="451.1" x2="344.9" y2="448.4" stroke="#666" stroke-width="1.30" stroke-linecap="round"/>
<line x1="344.9" y1="448.4" x2="344.9" y2="445.6" stroke="#bbb" stroke-width="1.30" stroke-linecap="round"/>
<circle cx="344.9" cy="445.6" r="0.75" fill="#333"/>
<line x1="351.1" y1="451.1" x2="351.0" y2="448.4" stroke="#666" stroke-width="1.30" stroke-linecap="round"/>
<line x1="351.0" y1="448.4" x2="350.9" y2="445.6" stroke="#bbb" stroke-width="1.30" stroke-linecap="round"/>
<circle cx="350.9" cy="445.6" r="0.75" fill="#333"/>
<line x1="342.4" y1="455.8" x2="340.1" y2="455.9" stroke="#2a2a2a" stroke-width="1.60" stroke-linecap="round"/>
<line x1="340.1" y1="455.9" x2="337.8" y2="456.0" stroke="#2222dd" stroke-width="1.60" stroke-linecap="round"/>
<line x1="337.8" y1="456.0" x2="336.5" y2="453.9" stroke="#2222dd" stroke-width="0.90" stroke-linecap="round"/>
<line x1="336.5" y1="453.9" x2="335.1" y2="451.9" stroke="#999" stroke-width="0.90" stroke-linecap="round"/>
<circle cx="335.1" cy="451.9" r="0.65" fill="#444"/>
<line x1="337.8" y1="456.0" x2="336.5" y2="458.1" stroke="#2222dd" stroke-width="0.90" stroke-linecap="round"/>
<line x1="336.5" y1="458.1" x2="335.1" y2="460.1" stroke="#999" stroke-width="0.90" stroke-linecap="round"/>
<circle cx="335.1" cy="460.1" r="0.65" fill="#444"/>
<circle cx="337.8" cy="456.0" r="1.50" fill="#1c1ce0"/>
<line x1="353.3" y1="455.8" x2="351.1" y2="460.5" stroke="#2c2c2c" stroke-width="2.00" stroke-linecap="round"/>
<line x1="351.1" y1="460.5" x2="344.9" y2="460.5" stroke="#2c2c2c" stroke-width="2.00" stroke-linecap="round"/>
<line x1="344.9" y1="460.5" x2="342.4" y2="455.8" stroke="#2c2c2c" stroke-width="2.00" stroke-linecap="round"/>
<line x1="342.4" y1="455.8" x2="344.9" y2="451.1" stroke="#2c2c2c" stroke-width="2.00" stroke-linecap="round"/>
<line x1="344.9" y1="451.1" x2="351.1" y2="451.1" stroke="#2c2c2c" stroke-width="2.00" stroke-linecap="round"/>
<line x1="351.1" y1="451.1" x2="353.3" y2="455.8" stroke="#2c2c2c" stroke-width="2.00" stroke-linecap="round"/>
<circle cx="353.3" cy="455.8" r="1.15" fill="#262626"/>
<circle cx="351.1" cy="460.5" r="1.15" fill="#262626"/>
<circle cx="344.9" cy="460.5" r="1.15" fill="#262626"/>
<circle cx="342.4" cy="455.8" r="1.15" fill="#262626"/>
<circle cx="344.9" cy="451.1" r="1.15" fill="#262626"/>
<circle cx="351.1" cy="451.1" r="1.15" fill="#262626"/>
<rect x="349.8" y="380.8" width="24.6" height="23.4" fill="#f7f7f8"/>
<line x1="360.7" y1="394.2" x2="360.7" y2="390.2" stroke="#2238d8" stroke-width="1.30" stroke-linecap="round"/>
<line x1="360.7" y1="390.2" x2="360.7" y2="386.2" stroke="#e01818" stroke-width="1.30" stroke-linecap="round"/>
<line x1="360.7" y1="394.2" x2="357.2" y2="397.4" stroke="#2238d8" stroke-width="1.30" stroke-linecap="round"/>
<line x1="357.2" y1="397.4" x2="353.7" y2="400.6" stroke="#e01818" stroke-width="1.30" stroke-linecap="round"/>
<line x1="360.7" y1="394.2" x2="364.5" y2="396.9" stroke="#2238d8" stroke-width="1.30" stroke-linecap="round"/>
<line x1="364.5" y1="396.9" x2="368.4" y2="399.6" stroke="#e01818" stroke-width="1.30" stroke-linecap="round"/>
<circle cx="360.7" cy="386.2" r="1.70" fill="#e01515"/>
<circle cx="353.7" cy="400.6" r="1.70" fill="#e01515"/>
<circle cx="368.4" cy="399.6" r="1.70" fill="#e01515"/>
<circle cx="360.7" cy="394.2" r="1.80" fill="#1c30d8"/>
<circle cx="370.7" cy="389.3" r="1.90" fill="#c56adc"/>
<circle cx="370.2" cy="388.8" r="0.80" fill="#e2a8ee"/>
<defs><radialGradient id="gh" cx="0.42" cy="0.42" r="0.6"><stop offset="0" stop-color="#b6b42c"/><stop offset="0.65" stop-color="#8a881c"/><stop offset="1" stop-color="#35350c"/></radialGradient><pattern id="ph" width="2.0" height="1.7" patternUnits="userSpaceOnUse"><path d="M0 0.3 H2 M0.3 0 V1.7" stroke="#0a0a03" stroke-width="0.6" fill="none"/></pattern><pattern id="ph2" width="3" height="1.5" patternUnits="userSpaceOnUse"><path d="M0 0.3 H3" stroke="#1e1e08" stroke-width="0.5" fill="none"/></pattern></defs>
<circle cx="381.6" cy="448.3" r="10.20" fill="url(#gh)"/>
<circle cx="381.6" cy="448.3" r="10.2" fill="url(#ph)" opacity="0.85"/>
<path d="M381.6 438.7 C377.6 440.6 375.4 445.6 375.5 450.7 L381.8 448.6 Z" fill="#a9a730"/>
<path d="M381.6 438.7 C377.6 440.6 375.4 445.6 375.5 450.7 L381.8 448.6 Z" fill="url(#ph2)"/>
<path d="M381.6 438.7 C386.6 440.2 390.2 444.6 390.7 450.0 L381.8 448.6 Z" fill="#8e8c24"/>
<path d="M381.6 438.7 C386.6 440.2 390.2 444.6 390.7 450.0 L381.8 448.6 Z" fill="url(#ph2)"/>
<path d="M375.5 450.7 L381.8 448.6 L390.7 450.0 C388.6 452.4 385.4 452.9 382.7 452.8 C379.8 452.8 377.2 452.2 375.5 450.7 Z" fill="#a9a870"/>
<path d="M381.6 438.7 L381.8 448.6 M375.5 450.7 L381.8 448.6 L390.7 450.0" fill="none" stroke="#2a2a10" stroke-width="0.55"/>
<path d="M375.5 450.7 C375.4 445.6 377.6 440.6 381.6 438.7 C386.6 440.2 390.2 444.6 390.7 450.0" fill="none" stroke="#1c1c0a" stroke-width="0.7"/>
<path d="M375.5 450.7 C377.2 452.4 379.8 453 382.7 453 C385.4 453 388.6 452.6 390.7 450.0" fill="none" stroke="#1c1c0a" stroke-width="0.8"/>
<circle cx="381.6" cy="448.3" r="10.0" fill="none" stroke="#1c1c08" stroke-width="0.7" opacity="0.75"/>
<clipPath id="ci"><rect x="376.9" y="351.0" width="25.3" height="24.8"/></clipPath>
<rect x="376.9" y="351.0" width="25.3" height="24.8" fill="#9c9c9c"/>
<g clip-path="url(#ci)">
<ellipse cx="388.3" cy="364.9" rx="1.6" ry="0.6" fill="#505050" transform="rotate(35 388.3 364.9)"/>
<ellipse cx="381.7" cy="370.9" rx="1.1" ry="0.6" fill="#333" transform="rotate(-28 381.7 370.9)"/>
<ellipse cx="388.2" cy="354.5" rx="1.2" ry="0.8" fill="#262626" transform="rotate(36 388.2 354.5)"/>
<ellipse cx="401.7" cy="374.9" rx="1.3" ry="0.6" fill="#333" transform="rotate(39 401.7 374.9)"/>
<ellipse cx="377.3" cy="364.1" rx="0.7" ry="0.4" fill="#333" transform="rotate(36 377.3 364.1)"/>
<ellipse cx="377.7" cy="362.5" rx="1.1" ry="0.7" fill="#505050" transform="rotate(-11 377.7 362.5)"/>
<ellipse cx="393.1" cy="363.4" rx="1.3" ry="0.6" fill="#1e1e1e" transform="rotate(12 393.1 363.4)"/>
<ellipse cx="402.1" cy="375.7" rx="1.5" ry="0.7" fill="#1e1e1e" transform="rotate(-11 402.1 375.7)"/>
<ellipse cx="389.9" cy="351.7" rx="1.2" ry="0.4" fill="#262626" transform="rotate(-3 389.9 351.7)"/>
<ellipse cx="386.7" cy="374.8" rx="1.5" ry="0.4" fill="#333" transform="rotate(-34 386.7 374.8)"/>
<ellipse cx="388.8" cy="375.3" rx="1.0" ry="0.4" fill="#333" transform="rotate(-6 388.8 375.3)"/>
<ellipse cx="385.4" cy="358.7" rx="0.6" ry="0.5" fill="#262626" transform="rotate(-23 385.4 358.7)"/>
<ellipse cx="383.1" cy="353.5" rx="0.7" ry="0.7" fill="#333" transform="rotate(31 383.1 353.5)"/>
<ellipse cx="381.7" cy="363.6" rx="1.7" ry="0.7" fill="#444" transform="rotate(9 381.7 363.6)"/>
<ellipse cx="379.8" cy="361.4" rx="0.8" ry="0.5" fill="#505050" transform="rotate(-2 379.8 361.4)"/>
<ellipse cx="402.1" cy="351.5" rx="0.8" ry="0.8" fill="#505050" transform="rotate(33 402.1 351.5)"/>
<ellipse cx="379.4" cy="375.5" rx="0.8" ry="0.5" fill="#505050" transform="rotate(2 379.4 375.5)"/>
<ellipse cx="397.9" cy="360.6" rx="0.7" ry="0.4" fill="#333" transform="rotate(-39 397.9 360.6)"/>
<ellipse cx="392.1" cy="360.2" rx="1.1" ry="0.8" fill="#444" transform="rotate(33 392.1 360.2)"/>
<ellipse cx="380.3" cy="360.6" rx="1.3" ry="0.5" fill="#333" transform="rotate(38 380.3 360.6)"/>
<ellipse cx="383.2" cy="355.7" rx="1.4" ry="0.8" fill="#333" transform="rotate(9 383.2 355.7)"/>
<ellipse cx="399.2" cy="366.0" rx="1.1" ry="0.4" fill="#262626" transform="rotate(25 399.2 366.0)"/>
<ellipse cx="401.3" cy="356.9" rx="1.4" ry="0.5" fill="#505050" transform="rotate(22 401.3 356.9)"/>
<ellipse cx="384.3" cy="355.4" rx="1.4" ry="0.4" fill="#333" transform="rotate(21 384.3 355.4)"/>
<ellipse cx="391.1" cy="372.1" rx="1.3" ry="0.5" fill="#333" transform="rotate(-38 391.1 372.1)"/>
<ellipse cx="378.6" cy="361.2" rx="0.9" ry="0.4" fill="#1e1e1e" transform="rotate(7 378.6 361.2)"/>
<ellipse cx="390.3" cy="375.1" rx="0.7" ry="0.4" fill="#444" transform="rotate(2 390.3 375.1)"/>
<ellipse cx="393.5" cy="368.1" rx="1.2" ry="0.4" fill="#262626" transform="rotate(-38 393.5 368.1)"/>
<ellipse cx="388.9" cy="359.9" rx="0.9" ry="0.4" fill="#505050" transform="rotate(-31 388.9 359.9)"/>
<ellipse cx="389.1" cy="369.1" rx="1.0" ry="0.8" fill="#262626" transform="rotate(17 389.1 369.1)"/>
<ellipse cx="390.7" cy="369.3" rx="1.6" ry="0.7" fill="#333" transform="rotate(3 390.7 369.3)"/>
<ellipse cx="385.8" cy="368.0" rx="1.6" ry="0.7" fill="#444" transform="rotate(-37 385.8 368.0)"/>
<ellipse cx="398.7" cy="365.2" rx="1.3" ry="0.5" fill="#505050" transform="rotate(-39 398.7 365.2)"/>
<ellipse cx="392.3" cy="353.0" rx="1.3" ry="0.8" fill="#444" transform="rotate(2 392.3 353.0)"/>
<ellipse cx="386.7" cy="369.2" rx="1.2" ry="0.5" fill="#505050" transform="rotate(-30 386.7 369.2)"/>
<ellipse cx="390.0" cy="363.8" rx="0.9" ry="0.4" fill="#262626" transform="rotate(-11 390.0 363.8)"/>
<ellipse cx="401.1" cy="353.8" rx="1.5" ry="0.6" fill="#444" transform="rotate(-8 401.1 353.8)"/>
<ellipse cx="399.6" cy="360.1" rx="0.8" ry="0.6" fill="#505050" transform="rotate(-19 399.6 360.1)"/>
<ellipse cx="396.0" cy="359.5" rx="1.6" ry="0.6" fill="#333" transform="rotate(1 396.0 359.5)"/>
<ellipse cx="387.1" cy="357.2" rx="1.3" ry="0.7" fill="#333" transform="rotate(-13 387.1 357.2)"/>
<ellipse cx="386.6" cy="365.5" rx="0.9" ry="0.4" fill="#444" transform="rotate(4 386.6 365.5)"/>
<ellipse cx="398.1" cy="372.0" rx="1.4" ry="0.8" fill="#1e1e1e" transform="rotate(-19 398.1 372.0)"/>
<ellipse cx="379.8" cy="362.7" rx="1.6" ry="0.7" fill="#444" transform="rotate(40 379.8 362.7)"/>
<ellipse cx="390.1" cy="367.7" rx="1.4" ry="0.7" fill="#505050" transform="rotate(17 390.1 367.7)"/>
<ellipse cx="385.0" cy="371.6" rx="0.9" ry="0.6" fill="#1e1e1e" transform="rotate(33 385.0 371.6)"/>
<ellipse cx="385.9" cy="367.1" rx="1.2" ry="0.6" fill="#444" transform="rotate(18 385.9 367.1)"/>
<ellipse cx="381.7" cy="370.1" rx="0.9" ry="0.7" fill="#262626" transform="rotate(40 381.7 370.1)"/>
<ellipse cx="379.8" cy="353.7" rx="1.2" ry="0.6" fill="#1e1e1e" transform="rotate(-31 379.8 353.7)"/>
<ellipse cx="394.2" cy="355.9" rx="1.1" ry="0.4" fill="#262626" transform="rotate(20 394.2 355.9)"/>
<ellipse cx="390.4" cy="351.9" rx="0.8" ry="0.7" fill="#505050" transform="rotate(26 390.4 351.9)"/>
<ellipse cx="389.6" cy="375.7" rx="0.8" ry="0.7" fill="#333" transform="rotate(-29 389.6 375.7)"/>
<ellipse cx="387.3" cy="373.1" rx="1.0" ry="0.6" fill="#333" transform="rotate(40 387.3 373.1)"/>
<ellipse cx="399.3" cy="351.2" rx="1.2" ry="0.6" fill="#505050" transform="rotate(3 399.3 351.2)"/>
<ellipse cx="388.6" cy="367.2" rx="0.8" ry="0.7" fill="#262626" transform="rotate(-13 388.6 367.2)"/>
<ellipse cx="383.0" cy="360.7" rx="0.7" ry="0.5" fill="#1e1e1e" transform="rotate(-7 383.0 360.7)"/>
<ellipse cx="399.9" cy="372.2" rx="1.0" ry="0.4" fill="#444" transform="rotate(3 399.9 372.2)"/>
<ellipse cx="390.8" cy="370.1" rx="1.1" ry="0.4" fill="#262626" transform="rotate(14 390.8 370.1)"/>
<ellipse cx="397.1" cy="355.3" rx="1.0" ry="0.7" fill="#333" transform="rotate(20 397.1 355.3)"/>
<ellipse cx="380.7" cy="363.8" rx="1.4" ry="0.7" fill="#444" transform="rotate(23 380.7 363.8)"/>
<ellipse cx="391.5" cy="368.1" rx="1.4" ry="0.5" fill="#505050" transform="rotate(-3 391.5 368.1)"/>
<ellipse cx="397.9" cy="364.9" rx="0.8" ry="0.6" fill="#505050" transform="rotate(-8 397.9 364.9)"/>
<ellipse cx="384.8" cy="360.5" rx="1.5" ry="0.8" fill="#333" transform="rotate(-2 384.8 360.5)"/>
<ellipse cx="398.4" cy="375.0" rx="1.2" ry="0.6" fill="#333" transform="rotate(12 398.4 375.0)"/>
<ellipse cx="390.5" cy="363.5" rx="1.3" ry="0.4" fill="#262626" transform="rotate(26 390.5 363.5)"/>
<ellipse cx="400.1" cy="364.5" rx="1.7" ry="0.4" fill="#262626" transform="rotate(-19 400.1 364.5)"/>
<ellipse cx="378.6" cy="364.4" rx="1.1" ry="0.8" fill="#444" transform="rotate(-6 378.6 364.4)"/>
<ellipse cx="383.1" cy="363.2" rx="1.0" ry="0.8" fill="#444" transform="rotate(27 383.1 363.2)"/>
<ellipse cx="384.9" cy="355.7" rx="1.3" ry="0.8" fill="#333" transform="rotate(-38 384.9 355.7)"/>
<ellipse cx="377.8" cy="354.9" rx="0.6" ry="0.5" fill="#1e1e1e" transform="rotate(-9 377.8 354.9)"/>
<ellipse cx="392.6" cy="353.6" rx="1.4" ry="0.4" fill="#505050" transform="rotate(39 392.6 353.6)"/>
<ellipse cx="383.2" cy="355.9" rx="1.2" ry="0.5" fill="#444" transform="rotate(12 383.2 355.9)"/>
<ellipse cx="397.8" cy="366.3" rx="1.2" ry="0.7" fill="#505050" transform="rotate(-13 397.8 366.3)"/>
<ellipse cx="390.3" cy="372.1" rx="1.3" ry="0.7" fill="#333" transform="rotate(40 390.3 372.1)"/>
<ellipse cx="397.4" cy="373.4" rx="0.9" ry="0.5" fill="#333" transform="rotate(-13 397.4 373.4)"/>
<ellipse cx="396.6" cy="355.8" rx="0.7" ry="0.8" fill="#333" transform="rotate(-29 396.6 355.8)"/>
<ellipse cx="383.5" cy="353.4" rx="1.5" ry="0.5" fill="#333" transform="rotate(-15 383.5 353.4)"/>
<ellipse cx="387.1" cy="368.0" rx="0.6" ry="0.4" fill="#1e1e1e" transform="rotate(6 387.1 368.0)"/>
<ellipse cx="379.8" cy="363.5" rx="1.4" ry="0.6" fill="#333" transform="rotate(-31 379.8 363.5)"/>
<ellipse cx="389.1" cy="351.6" rx="1.4" ry="0.6" fill="#505050" transform="rotate(21 389.1 351.6)"/>
<ellipse cx="380.6" cy="355.6" rx="0.8" ry="0.7" fill="#1e1e1e" transform="rotate(-28 380.6 355.6)"/>
<ellipse cx="391.6" cy="354.3" rx="1.3" ry="0.4" fill="#262626" transform="rotate(1 391.6 354.3)"/>
<ellipse cx="386.8" cy="361.6" rx="1.0" ry="0.4" fill="#1e1e1e" transform="rotate(-39 386.8 361.6)"/>
<ellipse cx="392.9" cy="352.0" rx="0.8" ry="0.5" fill="#1e1e1e" transform="rotate(7 392.9 352.0)"/>
<ellipse cx="387.2" cy="355.8" rx="0.8" ry="0.6" fill="#262626" transform="rotate(1 387.2 355.8)"/>
<ellipse cx="399.5" cy="370.9" rx="1.4" ry="0.7" fill="#444" transform="rotate(32 399.5 370.9)"/>
<ellipse cx="392.1" cy="363.5" rx="1.7" ry="0.7" fill="#1e1e1e" transform="rotate(-5 392.1 363.5)"/>
<ellipse cx="400.0" cy="369.5" rx="1.5" ry="0.7" fill="#444" transform="rotate(-23 400.0 369.5)"/>
<ellipse cx="399.6" cy="372.8" rx="1.4" ry="0.7" fill="#333" transform="rotate(11 399.6 372.8)"/>
<ellipse cx="382.1" cy="355.6" rx="1.5" ry="0.5" fill="#262626" transform="rotate(-39 382.1 355.6)"/>
<ellipse cx="399.4" cy="375.6" rx="1.6" ry="0.4" fill="#1e1e1e" transform="rotate(-2 399.4 375.6)"/>
<ellipse cx="385.4" cy="367.4" rx="1.2" ry="0.6" fill="#444" transform="rotate(25 385.4 367.4)"/>
<ellipse cx="402.2" cy="366.9" rx="1.4" ry="0.7" fill="#505050" transform="rotate(-38 402.2 366.9)"/>
<ellipse cx="379.8" cy="353.7" rx="0.9" ry="0.5" fill="#505050" transform="rotate(-34 379.8 353.7)"/>
<ellipse cx="396.2" cy="367.1" rx="0.6" ry="0.5" fill="#1e1e1e" transform="rotate(3 396.2 367.1)"/>
<ellipse cx="390.8" cy="363.6" rx="1.7" ry="0.6" fill="#262626" transform="rotate(16 390.8 363.6)"/>
<ellipse cx="397.4" cy="352.9" rx="1.3" ry="0.7" fill="#262626" transform="rotate(9 397.4 352.9)"/>
<ellipse cx="400.4" cy="355.0" rx="1.1" ry="0.4" fill="#444" transform="rotate(29 400.4 355.0)"/>
<ellipse cx="392.4" cy="352.5" rx="1.6" ry="0.5" fill="#505050" transform="rotate(11 392.4 352.5)"/>
<ellipse cx="392.0" cy="360.1" rx="0.9" ry="0.6" fill="#505050" transform="rotate(-4 392.0 360.1)"/>
<ellipse cx="393.7" cy="369.5" rx="0.6" ry="0.7" fill="#505050" transform="rotate(-35 393.7 369.5)"/>
<ellipse cx="392.9" cy="361.1" rx="1.4" ry="0.4" fill="#1e1e1e" transform="rotate(10 392.9 361.1)"/>
<ellipse cx="378.2" cy="375.5" rx="1.6" ry="0.4" fill="#333" transform="rotate(14 378.2 375.5)"/>
<ellipse cx="395.1" cy="357.2" rx="1.4" ry="0.4" fill="#262626" transform="rotate(19 395.1 357.2)"/>
<ellipse cx="380.6" cy="374.8" rx="0.9" ry="0.7" fill="#262626" transform="rotate(39 380.6 374.8)"/>
<ellipse cx="387.5" cy="353.9" rx="1.5" ry="0.5" fill="#333" transform="rotate(-25 387.5 353.9)"/>
<line x1="381.0" y1="353.0" x2="399.4" y2="354.1" stroke="#cbcbcb" stroke-width="0.9" opacity="0.9"/>
<line x1="373.5" y1="357.4" x2="397.7" y2="365.9" stroke="#cbcbcb" stroke-width="0.9" opacity="0.9"/>
<line x1="378.0" y1="366.6" x2="400.6" y2="377.5" stroke="#c4c4c4" stroke-width="0.9" opacity="0.9"/>
<line x1="385.6" y1="367.8" x2="399.4" y2="360.9" stroke="#b8b8b8" stroke-width="0.5" opacity="0.9"/>
<line x1="370.2" y1="355.4" x2="389.3" y2="346.8" stroke="#e0e0e0" stroke-width="0.7" opacity="0.9"/>
<line x1="380.7" y1="358.7" x2="398.6" y2="352.6" stroke="#cbcbcb" stroke-width="0.9" opacity="0.9"/>
<line x1="394.5" y1="361.8" x2="417.1" y2="356.9" stroke="#cbcbcb" stroke-width="0.6" opacity="0.9"/>
<line x1="387.2" y1="370.5" x2="406.2" y2="367.9" stroke="#e0e0e0" stroke-width="0.5" opacity="0.9"/>
<line x1="371.7" y1="365.2" x2="382.6" y2="361.5" stroke="#c4c4c4" stroke-width="0.9" opacity="0.9"/>
<line x1="389.0" y1="369.0" x2="402.6" y2="364.4" stroke="#e0e0e0" stroke-width="0.7" opacity="0.9"/>
<line x1="372.8" y1="369.4" x2="388.7" y2="379.4" stroke="#e0e0e0" stroke-width="0.7" opacity="0.9"/>
<line x1="376.3" y1="376.9" x2="386.1" y2="380.5" stroke="#b8b8b8" stroke-width="0.8" opacity="0.9"/>
<line x1="395.4" y1="370.3" x2="416.5" y2="367.4" stroke="#c4c4c4" stroke-width="0.5" opacity="0.9"/>
<line x1="384.0" y1="373.6" x2="405.0" y2="369.7" stroke="#d0d0d0" stroke-width="0.8" opacity="0.9"/>
<line x1="395.7" y1="350.8" x2="410.4" y2="346.2" stroke="#d0d0d0" stroke-width="0.9" opacity="0.9"/>
<line x1="371.7" y1="367.3" x2="393.2" y2="356.0" stroke="#b8b8b8" stroke-width="0.8" opacity="0.9"/>
<line x1="386.3" y1="371.0" x2="398.8" y2="373.4" stroke="#b8b8b8" stroke-width="0.7" opacity="0.9"/>
<line x1="392.9" y1="369.4" x2="409.7" y2="371.6" stroke="#d0d0d0" stroke-width="0.9" opacity="0.9"/>
<line x1="396.7" y1="374.6" x2="406.9" y2="374.7" stroke="#d0d0d0" stroke-width="0.7" opacity="0.9"/>
<line x1="382.9" y1="353.2" x2="398.9" y2="349.7" stroke="#b8b8b8" stroke-width="0.7" opacity="0.9"/>
<line x1="378.6" y1="376.9" x2="391.6" y2="374.9" stroke="#c4c4c4" stroke-width="0.9" opacity="0.9"/>
<line x1="394.0" y1="349.5" x2="406.9" y2="345.0" stroke="#c4c4c4" stroke-width="0.8" opacity="0.9"/>
<line x1="388.9" y1="362.6" x2="401.6" y2="366.8" stroke="#e0e0e0" stroke-width="0.8" opacity="0.9"/>
<line x1="400.3" y1="364.9" x2="422.1" y2="372.6" stroke="#d0d0d0" stroke-width="0.7" opacity="0.9"/>
<line x1="376.3" y1="350.4" x2="402.1" y2="349.2" stroke="#e0e0e0" stroke-width="0.9" opacity="0.9"/>
<line x1="370.8" y1="375.6" x2="393.1" y2="388.9" stroke="#b8b8b8" stroke-width="0.8" opacity="0.9"/>
<line x1="374.1" y1="353.5" x2="386.6" y2="355.4" stroke="#cbcbcb" stroke-width="0.6" opacity="0.9"/>
<line x1="386.7" y1="353.3" x2="412.6" y2="348.0" stroke="#d0d0d0" stroke-width="0.7" opacity="0.9"/>
<line x1="389.4" y1="364.2" x2="410.8" y2="360.6" stroke="#cbcbcb" stroke-width="0.6" opacity="0.9"/>
<line x1="395.2" y1="361.0" x2="405.8" y2="359.5" stroke="#b8b8b8" stroke-width="0.7" opacity="0.9"/>
<line x1="374.1" y1="373.0" x2="403.1" y2="380.5" stroke="#d0d0d0" stroke-width="0.7" opacity="0.9"/>
<line x1="391.8" y1="352.0" x2="413.3" y2="343.6" stroke="#d0d0d0" stroke-width="0.9" opacity="0.9"/>
<line x1="392.6" y1="362.7" x2="406.7" y2="364.2" stroke="#cbcbcb" stroke-width="0.6" opacity="0.9"/>
<line x1="389.8" y1="376.0" x2="413.0" y2="378.4" stroke="#e0e0e0" stroke-width="0.6" opacity="0.9"/>
<line x1="381.4" y1="352.2" x2="398.1" y2="352.0" stroke="#b8b8b8" stroke-width="0.5" opacity="0.9"/>
<line x1="373.6" y1="351.7" x2="383.2" y2="356.4" stroke="#b8b8b8" stroke-width="0.8" opacity="0.9"/>
<line x1="371.9" y1="355.5" x2="386.8" y2="347.8" stroke="#b8b8b8" stroke-width="0.9" opacity="0.9"/>
<line x1="373.5" y1="354.9" x2="393.8" y2="364.6" stroke="#b8b8b8" stroke-width="0.8" opacity="0.9"/>
<line x1="379.5" y1="371.7" x2="393.3" y2="381.0" stroke="#e0e0e0" stroke-width="0.6" opacity="0.9"/>
<line x1="383.6" y1="365.0" x2="403.5" y2="355.2" stroke="#c4c4c4" stroke-width="0.6" opacity="0.9"/>
<line x1="386.8" y1="357.6" x2="411.1" y2="357.7" stroke="#cbcbcb" stroke-width="0.9" opacity="0.9"/>
<line x1="392.4" y1="376.0" x2="404.6" y2="372.3" stroke="#b8b8b8" stroke-width="0.8" opacity="0.9"/>
<line x1="392.1" y1="358.5" x2="411.0" y2="356.0" stroke="#c4c4c4" stroke-width="0.6" opacity="0.9"/>
<line x1="387.9" y1="364.7" x2="417.4" y2="360.8" stroke="#e0e0e0" stroke-width="0.8" opacity="0.9"/>
<line x1="373.0" y1="372.7" x2="390.2" y2="371.0" stroke="#c4c4c4" stroke-width="0.6" opacity="0.9"/>
<line x1="387.1" y1="351.2" x2="399.7" y2="353.7" stroke="#b8b8b8" stroke-width="0.8" opacity="0.9"/>
<circle cx="393.1" cy="369.9" r="0.36" fill="#2a2a2a" opacity="0.8"/>
<circle cx="387.3" cy="351.8" r="0.51" fill="#2a2a2a" opacity="0.8"/>
<circle cx="379.9" cy="361.1" r="0.43" fill="#2a2a2a" opacity="0.8"/>
<circle cx="380.2" cy="357.1" r="0.67" fill="#2a2a2a" opacity="0.8"/>
<circle cx="378.3" cy="370.4" r="0.59" fill="#2a2a2a" opacity="0.8"/>
<circle cx="396.8" cy="361.0" r="0.50" fill="#2a2a2a" opacity="0.8"/>
<circle cx="379.5" cy="359.6" r="0.66" fill="#2a2a2a" opacity="0.8"/>
<circle cx="400.0" cy="365.0" r="0.46" fill="#2a2a2a" opacity="0.8"/>
<circle cx="384.0" cy="373.1" r="0.49" fill="#2a2a2a" opacity="0.8"/>
<circle cx="399.8" cy="368.1" r="0.63" fill="#2a2a2a" opacity="0.8"/>
<circle cx="379.9" cy="353.8" r="0.68" fill="#2a2a2a" opacity="0.8"/>
<circle cx="385.3" cy="363.9" r="0.47" fill="#2a2a2a" opacity="0.8"/>
<circle cx="377.5" cy="373.5" r="0.42" fill="#2a2a2a" opacity="0.8"/>
<circle cx="392.5" cy="361.7" r="0.45" fill="#2a2a2a" opacity="0.8"/>
<circle cx="385.0" cy="370.6" r="0.65" fill="#2a2a2a" opacity="0.8"/>
<circle cx="399.1" cy="357.1" r="0.64" fill="#2a2a2a" opacity="0.8"/>
<circle cx="383.0" cy="372.7" r="0.69" fill="#2a2a2a" opacity="0.8"/>
<circle cx="388.9" cy="353.6" r="0.66" fill="#2a2a2a" opacity="0.8"/>
<circle cx="390.7" cy="367.3" r="0.68" fill="#2a2a2a" opacity="0.8"/>
<circle cx="399.2" cy="375.8" r="0.59" fill="#2a2a2a" opacity="0.8"/>
<circle cx="398.9" cy="360.1" r="0.52" fill="#2a2a2a" opacity="0.8"/>
<circle cx="391.2" cy="355.1" r="0.56" fill="#2a2a2a" opacity="0.8"/>
<circle cx="387.6" cy="354.0" r="0.33" fill="#2a2a2a" opacity="0.8"/>
<circle cx="390.0" cy="354.2" r="0.65" fill="#2a2a2a" opacity="0.8"/>
<circle cx="391.5" cy="362.2" r="0.42" fill="#2a2a2a" opacity="0.8"/>
<circle cx="395.3" cy="351.6" r="0.37" fill="#2a2a2a" opacity="0.8"/>
<circle cx="388.1" cy="362.2" r="0.51" fill="#2a2a2a" opacity="0.8"/>
<circle cx="380.5" cy="368.2" r="0.39" fill="#2a2a2a" opacity="0.8"/>
<circle cx="384.6" cy="362.3" r="0.43" fill="#2a2a2a" opacity="0.8"/>
<circle cx="385.1" cy="354.6" r="0.61" fill="#2a2a2a" opacity="0.8"/>
<circle cx="396.5" cy="372.8" r="0.38" fill="#2a2a2a" opacity="0.8"/>
<circle cx="398.6" cy="368.2" r="0.32" fill="#2a2a2a" opacity="0.8"/>
<circle cx="384.9" cy="372.3" r="0.66" fill="#2a2a2a" opacity="0.8"/>
<circle cx="377.3" cy="366.8" r="0.58" fill="#2a2a2a" opacity="0.8"/>
<circle cx="391.1" cy="364.2" r="0.39" fill="#2a2a2a" opacity="0.8"/>
<circle cx="400.9" cy="375.2" r="0.56" fill="#2a2a2a" opacity="0.8"/>
<circle cx="384.6" cy="371.3" r="0.68" fill="#2a2a2a" opacity="0.8"/>
<circle cx="383.8" cy="361.4" r="0.65" fill="#2a2a2a" opacity="0.8"/>
<circle cx="385.4" cy="374.7" r="0.61" fill="#2a2a2a" opacity="0.8"/>
<circle cx="387.4" cy="355.2" r="0.64" fill="#2a2a2a" opacity="0.8"/>
<circle cx="380.0" cy="368.1" r="0.41" fill="#2a2a2a" opacity="0.8"/>
<circle cx="395.1" cy="363.4" r="0.42" fill="#2a2a2a" opacity="0.8"/>
<circle cx="383.8" cy="370.9" r="0.51" fill="#2a2a2a" opacity="0.8"/>
<circle cx="379.8" cy="363.8" r="0.69" fill="#2a2a2a" opacity="0.8"/>
<circle cx="399.6" cy="355.5" r="0.39" fill="#2a2a2a" opacity="0.8"/>
<circle cx="380.3" cy="367.6" r="0.49" fill="#2a2a2a" opacity="0.8"/>
<circle cx="378.8" cy="373.7" r="0.33" fill="#2a2a2a" opacity="0.8"/>
<circle cx="399.9" cy="351.2" r="0.53" fill="#2a2a2a" opacity="0.8"/>
<circle cx="390.5" cy="361.5" r="0.53" fill="#2a2a2a" opacity="0.8"/>
<circle cx="381.1" cy="375.5" r="0.38" fill="#2a2a2a" opacity="0.8"/>
<circle cx="381.4" cy="369.2" r="0.31" fill="#2a2a2a" opacity="0.8"/>
<circle cx="396.9" cy="354.7" r="0.66" fill="#2a2a2a" opacity="0.8"/>
<circle cx="392.6" cy="373.7" r="0.53" fill="#2a2a2a" opacity="0.8"/>
<circle cx="377.0" cy="373.1" r="0.32" fill="#2a2a2a" opacity="0.8"/>
<circle cx="378.5" cy="370.3" r="0.66" fill="#2a2a2a" opacity="0.8"/>
<circle cx="385.0" cy="363.0" r="0.31" fill="#2a2a2a" opacity="0.8"/>
<circle cx="384.3" cy="371.5" r="0.55" fill="#2a2a2a" opacity="0.8"/>
<circle cx="401.8" cy="369.5" r="0.51" fill="#2a2a2a" opacity="0.8"/>
<circle cx="391.9" cy="370.1" r="0.34" fill="#2a2a2a" opacity="0.8"/>
<circle cx="387.9" cy="367.6" r="0.52" fill="#2a2a2a" opacity="0.8"/>
</g>
<rect x="398.8" y="416.4" width="25.2" height="19.2" fill="#fefefa"/>
<defs><radialGradient id="gj" cx="0.38" cy="0.35" r="0.7"><stop offset="0" stop-color="#ecec3a"/><stop offset="0.55" stop-color="#b9b914"/><stop offset="1" stop-color="#5e5e06"/></radialGradient></defs>
<line x1="402.1" y1="424.5" x2="407.3" y2="425.4" stroke="#a8a81c" stroke-width="0.90" stroke-linecap="round"/>
<line x1="407.3" y1="425.4" x2="409.7" y2="421.6" stroke="#a8a81c" stroke-width="0.90" stroke-linecap="round"/>
<line x1="409.7" y1="421.6" x2="414.6" y2="424.5" stroke="#a8a81c" stroke-width="0.90" stroke-linecap="round"/>
<line x1="414.6" y1="424.5" x2="419.6" y2="422.5" stroke="#a8a81c" stroke-width="0.90" stroke-linecap="round"/>
<line x1="419.6" y1="422.5" x2="421.0" y2="430.3" stroke="#a8a81c" stroke-width="0.90" stroke-linecap="round"/>
<line x1="421.0" y1="430.3" x2="415.2" y2="428.9" stroke="#a8a81c" stroke-width="0.90" stroke-linecap="round"/>
<line x1="415.2" y1="428.9" x2="407.1" y2="431.5" stroke="#a8a81c" stroke-width="0.90" stroke-linecap="round"/>
<line x1="407.1" y1="431.5" x2="402.1" y2="424.5" stroke="#a8a81c" stroke-width="0.90" stroke-linecap="round"/>
<circle cx="402.1" cy="424.5" r="1.60" fill="url(#gj)"/>
<circle cx="407.3" cy="425.4" r="1.30" fill="url(#gj)"/>
<circle cx="409.7" cy="421.6" r="1.20" fill="url(#gj)"/>
<circle cx="414.6" cy="424.5" r="1.30" fill="url(#gj)"/>
<circle cx="419.6" cy="422.5" r="1.70" fill="url(#gj)"/>
<circle cx="421.0" cy="430.3" r="1.90" fill="url(#gj)"/>
<circle cx="415.2" cy="428.9" r="2.10" fill="url(#gj)"/>
<circle cx="407.1" cy="431.5" r="2.00" fill="url(#gj)"/>
<clipPath id="ck"><rect x="406.6" y="331.2" width="27.6" height="21.0"/></clipPath>
<rect x="406.6" y="331.2" width="27.6" height="21.0" fill="#0a0a0a"/>
<g clip-path="url(#ck)">
<circle cx="415.5" cy="334.4" r="0.95" fill="#fff"/>
<circle cx="429.3" cy="333.2" r="0.90" fill="#ddd"/>
<circle cx="407.6" cy="340.3" r="0.46" fill="#fff"/>
<circle cx="421.8" cy="332.4" r="0.88" fill="#ddd"/>
<circle cx="424.0" cy="343.4" r="0.45" fill="#eee"/>
<circle cx="408.0" cy="335.8" r="0.87" fill="#ddd"/>
<circle cx="414.6" cy="334.2" r="0.50" fill="#bbb"/>
<circle cx="422.1" cy="345.5" r="0.49" fill="#ddd"/>
<circle cx="416.9" cy="342.7" r="0.45" fill="#fff"/>
<circle cx="423.7" cy="341.6" r="0.85" fill="#bbb"/>
<circle cx="419.5" cy="350.6" r="0.71" fill="#ddd"/>
<circle cx="428.5" cy="345.9" r="0.61" fill="#bbb"/>
<circle cx="421.1" cy="349.6" r="1.02" fill="#bbb"/>
<circle cx="423.4" cy="332.7" r="0.84" fill="#ddd"/>
<circle cx="427.5" cy="334.4" r="0.82" fill="#fff"/>
<circle cx="433.2" cy="332.8" r="0.87" fill="#bbb"/>
<circle cx="416.0" cy="338.6" r="0.82" fill="#eee"/>
<circle cx="408.5" cy="333.2" r="0.63" fill="#fff"/>
<circle cx="408.3" cy="345.9" r="0.95" fill="#eee"/>
<circle cx="414.5" cy="339.3" r="0.97" fill="#fff"/>
<circle cx="432.6" cy="338.7" r="0.92" fill="#eee"/>
<circle cx="408.2" cy="347.3" r="0.51" fill="#ddd"/>
<circle cx="417.6" cy="350.5" r="0.82" fill="#ddd"/>
<circle cx="419.0" cy="342.7" r="1.15" fill="#eee"/>
<circle cx="430.4" cy="337.0" r="0.75" fill="#bbb"/>
<circle cx="425.4" cy="339.2" r="0.60" fill="#fff"/>
<circle cx="411.5" cy="336.1" r="0.60" fill="#eee"/>
<circle cx="429.5" cy="335.0" r="0.64" fill="#ddd"/>
<circle cx="418.2" cy="339.0" r="0.88" fill="#ddd"/>
<circle cx="425.7" cy="342.0" r="0.92" fill="#fff"/>
<circle cx="419.2" cy="349.5" r="1.21" fill="#eee"/>
<circle cx="417.6" cy="339.5" r="0.81" fill="#eee"/>
<circle cx="408.3" cy="332.6" r="0.58" fill="#ddd"/>
<circle cx="409.6" cy="343.8" r="0.49" fill="#ddd"/>
<circle cx="421.4" cy="351.1" r="0.92" fill="#fff"/>
<circle cx="430.7" cy="344.1" r="0.53" fill="#bbb"/>
<circle cx="433.0" cy="343.8" r="0.80" fill="#fff"/>
<circle cx="430.0" cy="352.1" r="0.80" fill="#eee"/>
<circle cx="415.2" cy="334.2" r="1.04" fill="#bbb"/>
<circle cx="419.8" cy="345.7" r="0.84" fill="#ddd"/>
<circle cx="432.8" cy="342.3" r="0.52" fill="#fff"/>
<circle cx="427.5" cy="337.5" r="0.95" fill="#fff"/>
<circle cx="425.8" cy="336.7" r="0.71" fill="#ddd"/>
<circle cx="416.4" cy="335.9" r="0.86" fill="#bbb"/>
<circle cx="424.2" cy="344.1" r="1.07" fill="#ddd"/>
<circle cx="428.8" cy="348.4" r="1.03" fill="#ddd"/>
</g>
<rect x="428.6" y="395.9" width="33.3" height="23.6" fill="#ffffff"/>
<defs><pattern id="pl" width="2.6" height="2.6" patternUnits="userSpaceOnUse" patternTransform="rotate(25)"><rect width="2.6" height="2.6" fill="#1a1004"/><circle cx="0.8" cy="0.8" r="0.78" fill="#fba81e"/><circle cx="2.1" cy="2.0" r="0.62" fill="#f09a1a"/></pattern></defs>
<path d="M438.8 403.3 L439.3 402.7 L440.0 401.8 L440.7 401.1 L441.4 400.4 L442.1 399.8 L443.0 399.3 L444.0 399.1 L445.1 398.9 L446.2 398.9 L447.1 399.1 L448.1 399.4 L449.0 399.8 L449.9 400.2 L450.7 400.7 L451.6 401.1 L452.4 401.3 L453.3 401.4 L454.1 401.5 L454.9 401.5 L455.6 401.4 L456.3 401.2 L457.2 400.8 L458.2 400.4 L458.7 400.2 L458.6 400.7 L458.2 401.5 L457.6 402.3 L457.1 403.0 L456.4 403.7 L455.7 404.2 L454.9 404.7 L454.1 405.2 L453.2 405.5 L452.2 405.8 L451.3 405.9 L450.3 406.0 L449.2 405.9 L448.2 405.7 L447.1 405.4 L446.1 405.2 L445.2 404.8 L444.2 404.6 L443.3 404.3 L442.3 404.1 L441.4 403.9 L440.4 403.7 L439.5 403.4 L438.8 403.3Z" fill="url(#pl)"/>
<path d="M430.9 410.6 L431.3 410.0 L432.0 409.2 L432.8 408.5 L433.5 407.9 L434.2 407.3 L435.0 406.8 L435.8 406.5 L436.7 406.3 L437.6 406.1 L438.4 406.2 L439.2 406.3 L440.1 406.5 L441.1 406.8 L442.2 407.2 L443.3 407.5 L444.5 407.5 L445.8 407.3 L447.1 407.1 L448.4 407.0 L449.7 406.9 L450.9 406.8 L452.2 406.9 L453.5 407.0 L454.8 407.0 L455.9 406.9 L456.9 406.7 L457.9 406.5 L459.2 406.0 L460.4 405.5 L461.1 405.3 L461.1 405.8 L460.5 406.6 L459.8 407.4 L459.3 408.0 L458.6 408.6 L457.8 409.1 L456.9 409.7 L455.8 410.2 L454.8 410.6 L453.7 410.9 L452.6 411.1 L451.6 411.2 L450.5 411.3 L449.4 411.3 L448.4 411.3 L447.3 411.2 L446.3 411.1 L445.2 410.9 L444.1 410.7 L443.1 410.5 L442.0 410.3 L441.0 410.2 L439.9 410.1 L438.8 410.2 L437.6 410.3 L436.3 410.5 L435.0 410.6 L433.5 410.6 L432.0 410.6 L430.9 410.6Z" fill="url(#pl)"/>
<path d="M434.1 415.5 L434.5 415.0 L435.0 414.3 L435.6 413.6 L436.2 413.0 L436.8 412.5 L437.6 412.1 L438.4 411.6 L439.4 411.2 L440.4 410.9 L441.4 410.8 L442.3 410.9 L443.3 411.1 L444.3 411.4 L445.4 411.8 L446.5 412.2 L447.4 412.6 L448.2 413.0 L449.0 413.3 L449.7 413.5 L450.3 413.6 L450.9 413.6 L451.6 413.4 L452.3 413.2 L452.7 413.2 L452.6 413.6 L452.1 414.2 L451.6 414.9 L451.1 415.4 L450.6 416.0 L450.0 416.5 L449.1 417.0 L448.1 417.4 L447.1 417.6 L446.1 417.7 L445.0 417.6 L443.9 417.4 L442.9 417.2 L441.8 416.8 L440.7 416.5 L439.7 416.3 L438.6 416.1 L437.6 415.9 L436.3 415.7 L435.0 415.6 L434.1 415.5Z" fill="url(#pl)"/>
<rect x="477.2" y="363.2" width="28.1" height="28.1" fill="#ffffff"/>
<text x="489.7" y="366.1" text-anchor="middle" style="font-size:2.3px;font-weight:bold;fill:#111">All-solid-state</text>
<text x="489.7" y="368.9" text-anchor="middle" style="font-size:2.3px;font-weight:bold;fill:#111">Li&#8211;S batteries</text>
<line x1="480.6" y1="379.4" x2="481.4" y2="385.6" stroke="#e6ee22" stroke-width="1.6"/>
<line x1="484.6" y1="379.4" x2="486.4" y2="385.6" stroke="#e6ee22" stroke-width="1.6"/>
<line x1="491.4" y1="379.4" x2="492.4" y2="385.6" stroke="#e6ee22" stroke-width="1.6"/>
<line x1="496.0" y1="379.4" x2="497.4" y2="385.6" stroke="#e6ee22" stroke-width="1.6"/>
<rect x="477.8" y="385.3" width="26.7" height="5.6" fill="#5d7d84"/>
<circle cx="481.6" cy="386.3" r="1.15" fill="#ea1a92"/>
<circle cx="487.0" cy="386.3" r="1.15" fill="#ea1a92"/>
<circle cx="492.6" cy="386.3" r="1.15" fill="#ea1a92"/>
<circle cx="498.2" cy="386.3" r="1.15" fill="#ea1a92"/>
<ellipse cx="483.9" cy="376.5" rx="2.8" ry="1.2" fill="#16303a" transform="rotate(40 483.9 376.5)"/>
<ellipse cx="485.2" cy="378.2" rx="3.1" ry="0.9" fill="#4c6c74" transform="rotate(9 485.2 378.2)"/>
<ellipse cx="500.5" cy="375.5" rx="2.0" ry="0.7" fill="#2a4650" transform="rotate(6 500.5 375.5)"/>
<ellipse cx="484.0" cy="377.6" rx="3.0" ry="1.1" fill="#3c5c68" transform="rotate(8 484.0 377.6)"/>
<ellipse cx="497.1" cy="373.1" rx="2.7" ry="1.1" fill="#4c6c74" transform="rotate(-29 497.1 373.1)"/>
<ellipse cx="490.0" cy="373.9" rx="2.9" ry="0.8" fill="#4c6c74" transform="rotate(21 490.0 373.9)"/>
<ellipse cx="489.7" cy="378.6" rx="1.7" ry="0.7" fill="#2a4650" transform="rotate(-73 489.7 378.6)"/>
<ellipse cx="482.8" cy="380.0" rx="2.9" ry="0.7" fill="#24404a" transform="rotate(41 482.8 380.0)"/>
<ellipse cx="494.0" cy="375.3" rx="2.5" ry="0.7" fill="#1e3640" transform="rotate(-54 494.0 375.3)"/>
<ellipse cx="491.1" cy="380.2" rx="2.3" ry="1.1" fill="#2a4650" transform="rotate(-73 491.1 380.2)"/>
<ellipse cx="485.0" cy="374.9" rx="2.0" ry="1.0" fill="#16303a" transform="rotate(59 485.0 374.9)"/>
<ellipse cx="488.7" cy="373.5" rx="3.1" ry="0.8" fill="#3c5c68" transform="rotate(69 488.7 373.5)"/>
<ellipse cx="497.4" cy="376.7" rx="2.9" ry="1.1" fill="#2a4650" transform="rotate(56 497.4 376.7)"/>
<ellipse cx="482.8" cy="376.7" rx="3.0" ry="1.1" fill="#24404a" transform="rotate(-79 482.8 376.7)"/>
<ellipse cx="496.6" cy="373.7" rx="1.8" ry="1.0" fill="#1e3640" transform="rotate(62 496.6 373.7)"/>
<ellipse cx="480.9" cy="378.1" rx="2.4" ry="0.9" fill="#1e3640" transform="rotate(63 480.9 378.1)"/>
<ellipse cx="480.8" cy="374.0" rx="1.7" ry="0.7" fill="#3c5c68" transform="rotate(63 480.8 374.0)"/>
<ellipse cx="480.1" cy="379.9" rx="1.7" ry="0.8" fill="#24404a" transform="rotate(75 480.1 379.9)"/>
<ellipse cx="490.8" cy="378.2" rx="2.3" ry="0.9" fill="#3c5c68" transform="rotate(49 490.8 378.2)"/>
<ellipse cx="500.2" cy="378.3" rx="3.0" ry="1.2" fill="#16303a" transform="rotate(63 500.2 378.3)"/>
<ellipse cx="499.1" cy="374.1" rx="2.3" ry="0.8" fill="#3c5c68" transform="rotate(33 499.1 374.1)"/>
<ellipse cx="486.5" cy="378.0" rx="2.3" ry="0.7" fill="#16303a" transform="rotate(-49 486.5 378.0)"/>
<ellipse cx="499.2" cy="373.7" rx="2.7" ry="1.0" fill="#2a4650" transform="rotate(-16 499.2 373.7)"/>
<ellipse cx="498.9" cy="380.5" rx="2.0" ry="1.2" fill="#3c5c68" transform="rotate(44 498.9 380.5)"/>
<ellipse cx="483.1" cy="378.0" rx="2.0" ry="1.0" fill="#24404a" transform="rotate(23 483.1 378.0)"/>
<ellipse cx="487.0" cy="374.0" rx="2.1" ry="1.0" fill="#1e3640" transform="rotate(6 487.0 374.0)"/>
<ellipse cx="491.7" cy="376.1" rx="1.6" ry="0.8" fill="#24404a" transform="rotate(-5 491.7 376.1)"/>
<ellipse cx="490.8" cy="372.9" rx="3.2" ry="1.1" fill="#1e3640" transform="rotate(-59 490.8 372.9)"/>
<ellipse cx="485.3" cy="372.7" rx="2.8" ry="0.8" fill="#2a4650" transform="rotate(28 485.3 372.7)"/>
<ellipse cx="498.2" cy="378.1" rx="3.1" ry="0.8" fill="#24404a" transform="rotate(51 498.2 378.1)"/>
<ellipse cx="492.1" cy="378.3" rx="1.7" ry="0.6" fill="#4c6c74" transform="rotate(-34 492.1 378.3)"/>
<ellipse cx="488.9" cy="373.0" rx="3.1" ry="1.0" fill="#16303a" transform="rotate(-59 488.9 373.0)"/>
<ellipse cx="492.9" cy="374.3" rx="2.0" ry="0.7" fill="#1e3640" transform="rotate(6 492.9 374.3)"/>
<ellipse cx="501.4" cy="375.9" rx="3.1" ry="1.0" fill="#1e3640" transform="rotate(54 501.4 375.9)"/>
<ellipse cx="495.1" cy="380.3" rx="3.2" ry="0.8" fill="#2a4650" transform="rotate(-29 495.1 380.3)"/>
<ellipse cx="500.0" cy="377.7" rx="2.4" ry="0.7" fill="#3c5c68" transform="rotate(48 500.0 377.7)"/>
<ellipse cx="494.3" cy="374.7" rx="2.9" ry="1.2" fill="#1e3640" transform="rotate(-77 494.3 374.7)"/>
<ellipse cx="479.9" cy="376.6" rx="3.2" ry="0.9" fill="#2a4650" transform="rotate(34 479.9 376.6)"/>
<ellipse cx="481.8" cy="379.3" rx="2.3" ry="0.9" fill="#3c5c68" transform="rotate(49 481.8 379.3)"/>
<ellipse cx="486.3" cy="374.2" rx="2.0" ry="0.7" fill="#4c6c74" transform="rotate(-45 486.3 374.2)"/>
<ellipse cx="488.4" cy="375.3" rx="1.7" ry="0.7" fill="#1e3640" transform="rotate(80 488.4 375.3)"/>
<ellipse cx="495.8" cy="374.5" rx="1.9" ry="0.7" fill="#3c5c68" transform="rotate(49 495.8 374.5)"/>
<ellipse cx="494.3" cy="374.8" rx="2.0" ry="0.8" fill="#3c5c68" transform="rotate(-33 494.3 374.8)"/>
<ellipse cx="483.0" cy="376.1" rx="2.0" ry="1.2" fill="#24404a" transform="rotate(2 483.0 376.1)"/>
<ellipse cx="484.9" cy="380.5" rx="2.1" ry="0.8" fill="#1e3640" transform="rotate(5 484.9 380.5)"/>
<ellipse cx="487.9" cy="376.4" rx="2.4" ry="0.7" fill="#24404a" transform="rotate(-79 487.9 376.4)"/>
<ellipse cx="481.5" cy="379.3" rx="1.8" ry="1.0" fill="#3c5c68" transform="rotate(-75 481.5 379.3)"/>
<ellipse cx="486.1" cy="377.7" rx="1.7" ry="1.2" fill="#2a4650" transform="rotate(72 486.1 377.7)"/>
<ellipse cx="488.1" cy="375.1" rx="3.2" ry="0.7" fill="#4c6c74" transform="rotate(78 488.1 375.1)"/>
<ellipse cx="493.7" cy="372.8" rx="2.9" ry="1.1" fill="#4c6c74" transform="rotate(29 493.7 372.8)"/>
<ellipse cx="495.6" cy="379.2" rx="1.8" ry="0.9" fill="#24404a" transform="rotate(65 495.6 379.2)"/>
<ellipse cx="497.9" cy="379.2" rx="2.9" ry="1.0" fill="#4c6c74" transform="rotate(-22 497.9 379.2)"/>
<ellipse cx="481.4" cy="372.8" rx="2.6" ry="1.2" fill="#3c5c68" transform="rotate(35 481.4 372.8)"/>
<ellipse cx="491.8" cy="377.7" rx="2.6" ry="1.0" fill="#3c5c68" transform="rotate(-13 491.8 377.7)"/>
<ellipse cx="479.6" cy="379.1" rx="2.8" ry="0.9" fill="#24404a" transform="rotate(-57 479.6 379.1)"/>
<ellipse cx="494.0" cy="373.0" rx="2.8" ry="0.8" fill="#1e3640" transform="rotate(-13 494.0 373.0)"/>
<ellipse cx="484.7" cy="378.8" rx="2.0" ry="1.0" fill="#3c5c68" transform="rotate(46 484.7 378.8)"/>
<ellipse cx="498.1" cy="373.0" rx="3.1" ry="0.8" fill="#1e3640" transform="rotate(77 498.1 373.0)"/>
<ellipse cx="493.4" cy="374.1" rx="2.6" ry="0.8" fill="#4c6c74" transform="rotate(-3 493.4 374.1)"/>
<ellipse cx="493.2" cy="373.5" rx="2.4" ry="0.9" fill="#4c6c74" transform="rotate(-55 493.2 373.5)"/>
<clipPath id="cn"><rect x="481.2" y="328.2" width="29.9" height="25.7"/></clipPath>
<rect x="481.2" y="328.2" width="29.9" height="25.7" fill="#2a2a2a"/>
<g clip-path="url(#cn)">
<g filter="url(#blur1)">
<circle cx="499.8" cy="347.7" r="1.89" fill="#909090" opacity="0.75"/>
<circle cx="503.3" cy="352.0" r="0.74" fill="#161616" opacity="0.75"/>
<circle cx="504.4" cy="335.7" r="0.78" fill="#6c6c6c" opacity="0.75"/>
<circle cx="484.6" cy="341.1" r="1.07" fill="#7e7e7e" opacity="0.75"/>
<circle cx="484.2" cy="335.7" r="1.80" fill="#161616" opacity="0.75"/>
<circle cx="489.6" cy="351.9" r="1.85" fill="#6c6c6c" opacity="0.75"/>
<circle cx="504.0" cy="331.4" r="1.63" fill="#161616" opacity="0.75"/>
<circle cx="485.0" cy="329.7" r="2.01" fill="#6c6c6c" opacity="0.75"/>
<circle cx="504.3" cy="352.9" r="0.95" fill="#6c6c6c" opacity="0.75"/>
<circle cx="489.9" cy="353.0" r="1.51" fill="#1e1e1e" opacity="0.75"/>
<circle cx="499.9" cy="334.1" r="2.15" fill="#6c6c6c" opacity="0.75"/>
<circle cx="510.1" cy="351.3" r="1.15" fill="#4a4a4a" opacity="0.75"/>
<circle cx="493.6" cy="352.3" r="1.10" fill="#4a4a4a" opacity="0.75"/>
<circle cx="490.2" cy="344.3" r="0.71" fill="#1e1e1e" opacity="0.75"/>
<circle cx="502.4" cy="331.3" r="1.23" fill="#4a4a4a" opacity="0.75"/>
<circle cx="495.6" cy="337.3" r="1.42" fill="#1e1e1e" opacity="0.75"/>
<circle cx="486.5" cy="335.9" r="2.11" fill="#1e1e1e" opacity="0.75"/>
<circle cx="491.9" cy="339.5" r="1.52" fill="#161616" opacity="0.75"/>
<circle cx="492.1" cy="343.7" r="0.71" fill="#5a5a5a" opacity="0.75"/>
<circle cx="502.4" cy="344.8" r="2.13" fill="#5a5a5a" opacity="0.75"/>
<circle cx="503.8" cy="352.2" r="2.11" fill="#4a4a4a" opacity="0.75"/>
<circle cx="496.5" cy="351.3" r="1.08" fill="#161616" opacity="0.75"/>
<circle cx="484.4" cy="347.8" r="1.90" fill="#909090" opacity="0.75"/>
<circle cx="490.0" cy="340.2" r="2.17" fill="#6c6c6c" opacity="0.75"/>
<circle cx="491.4" cy="344.5" r="2.08" fill="#4a4a4a" opacity="0.75"/>
<circle cx="489.4" cy="346.7" r="0.84" fill="#1e1e1e" opacity="0.75"/>
<circle cx="490.7" cy="334.0" r="0.82" fill="#6c6c6c" opacity="0.75"/>
<circle cx="502.8" cy="337.2" r="1.43" fill="#1e1e1e" opacity="0.75"/>
<circle cx="482.7" cy="353.6" r="1.50" fill="#161616" opacity="0.75"/>
<circle cx="482.2" cy="347.6" r="1.22" fill="#4a4a4a" opacity="0.75"/>
<circle cx="494.8" cy="339.9" r="0.78" fill="#1e1e1e" opacity="0.75"/>
<circle cx="482.2" cy="341.6" r="1.96" fill="#6c6c6c" opacity="0.75"/>
<circle cx="510.5" cy="343.3" r="0.90" fill="#909090" opacity="0.75"/>
<circle cx="493.6" cy="333.8" r="1.26" fill="#5a5a5a" opacity="0.75"/>
<circle cx="506.5" cy="336.8" r="1.38" fill="#7e7e7e" opacity="0.75"/>
<circle cx="506.7" cy="353.3" r="1.38" fill="#161616" opacity="0.75"/>
<circle cx="501.8" cy="337.4" r="1.11" fill="#161616" opacity="0.75"/>
<circle cx="493.3" cy="333.2" r="1.27" fill="#7e7e7e" opacity="0.75"/>
<circle cx="509.9" cy="344.9" r="1.45" fill="#4a4a4a" opacity="0.75"/>
<circle cx="486.6" cy="341.6" r="1.47" fill="#7e7e7e" opacity="0.75"/>
<circle cx="507.1" cy="338.4" r="1.88" fill="#909090" opacity="0.75"/>
<circle cx="491.8" cy="343.9" r="0.75" fill="#4a4a4a" opacity="0.75"/>
<circle cx="492.1" cy="346.7" r="1.12" fill="#161616" opacity="0.75"/>
<circle cx="489.1" cy="353.4" r="1.77" fill="#4a4a4a" opacity="0.75"/>
<circle cx="500.6" cy="343.8" r="0.72" fill="#7e7e7e" opacity="0.75"/>
<circle cx="504.3" cy="337.6" r="1.11" fill="#4a4a4a" opacity="0.75"/>
<circle cx="505.6" cy="345.4" r="1.90" fill="#4a4a4a" opacity="0.75"/>
<circle cx="489.4" cy="338.1" r="2.11" fill="#161616" opacity="0.75"/>
<circle cx="491.7" cy="350.1" r="2.00" fill="#1e1e1e" opacity="0.75"/>
<circle cx="494.6" cy="338.5" r="1.20" fill="#6c6c6c" opacity="0.75"/>
<circle cx="497.0" cy="333.7" r="1.95" fill="#909090" opacity="0.75"/>
<circle cx="495.5" cy="346.4" r="1.78" fill="#1e1e1e" opacity="0.75"/>
<circle cx="493.7" cy="344.6" r="2.10" fill="#7e7e7e" opacity="0.75"/>
<circle cx="501.1" cy="339.9" r="1.64" fill="#909090" opacity="0.75"/>
<circle cx="507.1" cy="336.3" r="2.19" fill="#6c6c6c" opacity="0.75"/>
<circle cx="486.0" cy="340.4" r="1.68" fill="#6c6c6c" opacity="0.75"/>
<circle cx="503.9" cy="334.1" r="1.78" fill="#161616" opacity="0.75"/>
<circle cx="510.5" cy="333.7" r="2.04" fill="#5a5a5a" opacity="0.75"/>
<circle cx="490.7" cy="334.1" r="0.99" fill="#5a5a5a" opacity="0.75"/>
<circle cx="493.6" cy="338.2" r="1.69" fill="#5a5a5a" opacity="0.75"/>
<circle cx="498.8" cy="335.5" r="2.05" fill="#5a5a5a" opacity="0.75"/>
<circle cx="491.7" cy="352.7" r="1.98" fill="#909090" opacity="0.75"/>
<circle cx="484.6" cy="349.8" r="1.26" fill="#5a5a5a" opacity="0.75"/>
<circle cx="497.6" cy="337.0" r="1.14" fill="#7e7e7e" opacity="0.75"/>
<circle cx="491.3" cy="343.8" r="2.14" fill="#909090" opacity="0.75"/>
<circle cx="485.1" cy="339.6" r="1.55" fill="#7e7e7e" opacity="0.75"/>
<circle cx="492.2" cy="333.1" r="1.59" fill="#7e7e7e" opacity="0.75"/>
<circle cx="495.5" cy="334.5" r="0.90" fill="#5a5a5a" opacity="0.75"/>
<circle cx="491.7" cy="351.3" r="0.70" fill="#5a5a5a" opacity="0.75"/>
<circle cx="490.9" cy="351.9" r="1.51" fill="#4a4a4a" opacity="0.75"/>
</g>
<circle cx="500.0" cy="351.1" r="0.49" fill="#1a1a1a" opacity="0.8"/>
<circle cx="510.4" cy="340.9" r="0.54" fill="#1a1a1a" opacity="0.8"/>
<circle cx="492.7" cy="350.2" r="0.38" fill="#777" opacity="0.8"/>
<circle cx="503.4" cy="335.9" r="0.43" fill="#9a9a9a" opacity="0.8"/>
<circle cx="490.7" cy="353.5" r="0.55" fill="#777" opacity="0.8"/>
<circle cx="485.5" cy="328.8" r="0.63" fill="#1a1a1a" opacity="0.8"/>
<circle cx="488.5" cy="329.2" r="0.37" fill="#1a1a1a" opacity="0.8"/>
<circle cx="481.6" cy="341.9" r="0.44" fill="#1a1a1a" opacity="0.8"/>
<circle cx="504.6" cy="334.5" r="0.43" fill="#111" opacity="0.8"/>
<circle cx="502.8" cy="335.5" r="0.55" fill="#1a1a1a" opacity="0.8"/>
<circle cx="496.7" cy="350.4" r="0.74" fill="#9a9a9a" opacity="0.8"/>
<circle cx="481.7" cy="331.4" r="0.44" fill="#777" opacity="0.8"/>
<circle cx="499.5" cy="347.0" r="0.31" fill="#777" opacity="0.8"/>
<circle cx="492.0" cy="347.3" r="0.60" fill="#9a9a9a" opacity="0.8"/>
<circle cx="481.3" cy="342.4" r="0.64" fill="#9a9a9a" opacity="0.8"/>
<circle cx="507.7" cy="342.2" r="0.31" fill="#1a1a1a" opacity="0.8"/>
<circle cx="499.0" cy="345.9" r="0.78" fill="#1a1a1a" opacity="0.8"/>
<circle cx="506.9" cy="349.8" r="0.54" fill="#111" opacity="0.8"/>
<circle cx="508.1" cy="340.2" r="0.68" fill="#777" opacity="0.8"/>
<circle cx="506.2" cy="346.1" r="0.52" fill="#777" opacity="0.8"/>
<circle cx="500.6" cy="340.3" r="0.46" fill="#111" opacity="0.8"/>
<circle cx="495.5" cy="342.3" r="0.55" fill="#777" opacity="0.8"/>
<circle cx="497.3" cy="339.1" r="0.57" fill="#9a9a9a" opacity="0.8"/>
<circle cx="483.2" cy="334.1" r="0.71" fill="#9a9a9a" opacity="0.8"/>
<circle cx="501.0" cy="328.9" r="0.66" fill="#9a9a9a" opacity="0.8"/>
<circle cx="511.1" cy="346.2" r="0.32" fill="#9a9a9a" opacity="0.8"/>
<circle cx="487.8" cy="344.8" r="0.78" fill="#111" opacity="0.8"/>
<circle cx="510.9" cy="346.3" r="0.52" fill="#111" opacity="0.8"/>
<circle cx="499.5" cy="338.8" r="0.38" fill="#111" opacity="0.8"/>
<circle cx="482.5" cy="331.0" r="0.49" fill="#9a9a9a" opacity="0.8"/>
<circle cx="489.6" cy="342.9" r="0.36" fill="#1a1a1a" opacity="0.8"/>
<circle cx="507.5" cy="331.7" r="0.52" fill="#777" opacity="0.8"/>
<circle cx="501.7" cy="340.8" r="0.48" fill="#777" opacity="0.8"/>
<circle cx="508.6" cy="331.8" r="0.45" fill="#777" opacity="0.8"/>
<circle cx="508.4" cy="342.5" r="0.61" fill="#777" opacity="0.8"/>
<circle cx="483.1" cy="334.3" r="0.72" fill="#777" opacity="0.8"/>
<circle cx="496.7" cy="331.6" r="0.42" fill="#777" opacity="0.8"/>
<circle cx="494.8" cy="338.2" r="0.37" fill="#9a9a9a" opacity="0.8"/>
<circle cx="500.8" cy="330.4" r="0.63" fill="#9a9a9a" opacity="0.8"/>
<circle cx="507.0" cy="341.2" r="0.53" fill="#1a1a1a" opacity="0.8"/>
<path d="M503.6 333 C506 331.6 508 333.4 507.6 336.4 C507.4 339 505.4 340.6 503.8 339.4 C502.6 337.6 502.6 334.4 503.6 333Z" fill="none" stroke="#8a8a8a" stroke-width="0.4"/>
<path d="M489 345 C492 342 496 343 497.6 346.4 C498 349.6 495 352 491.6 351.4" fill="none" stroke="#8a8a8a" stroke-width="0.4"/>
<rect x="481.2" y="328.2" width="29.9" height="1.6" fill="#111" opacity="0.6"/>
</g>
<rect x="402.4" y="293.9" width="39.2" height="21.0" fill="#ffffff"/>
<defs><linearGradient id="go" x1="0" x2="0" y1="0" y2="1"><stop offset="0" stop-color="#f4ee4e"/><stop offset="1" stop-color="#dcd422"/></linearGradient><linearGradient id="go2" x1="0" x2="0" y1="0" y2="1"><stop offset="0" stop-color="#b8b01c"/><stop offset="1" stop-color="#7a720c"/></linearGradient></defs>
<path d="M403.7 307.5 L405.1 306.6 L406.0 306.2 L407.2 305.7 L408.6 305.1 L410.1 304.6 L411.5 304.4 L412.9 304.5 L414.3 304.8 L415.7 305.3 L417.2 305.7 L418.7 306.2 L420.3 306.7 L422.0 307.2 L423.7 307.8 L425.4 308.2 L426.9 308.5 L428.3 308.6 L429.7 308.6 L430.9 308.4 L432.1 308.1 L433.3 307.5 L434.5 306.5 L435.6 305.2 L436.7 303.8 L437.6 302.5 L438.3 301.6 L438.7 300.3 L438.7 304.8 L438.1 305.5 L437.3 306.4 L436.4 307.5 L435.3 308.6 L434.2 309.4 L433.1 310.0 L431.9 310.5 L430.6 310.9 L429.3 311.2 L427.8 311.3 L426.1 311.2 L424.3 311.0 L422.3 310.6 L420.4 310.2 L418.7 309.8 L417.1 309.3 L415.6 308.8 L414.2 308.2 L412.8 307.8 L411.5 307.6 L410.1 307.8 L408.8 308.4 L407.5 309.1 L406.3 309.6 L405.4 309.9 L404.8 309.8 L404.4 309.4 L404.2 308.9 L404.0 308.5 L403.9 308.2Z" fill="url(#go2)"/>
<path d="M403.7 307.5 L404.1 306.9 L404.7 306.0 L405.4 305.0 L406.2 303.9 L407.0 303.0 L407.8 302.2 L408.8 301.3 L409.7 300.6 L410.8 299.9 L411.9 299.4 L413.1 299.1 L414.5 298.8 L415.9 298.7 L417.3 298.7 L418.7 298.9 L420.1 299.3 L421.6 299.8 L423.1 300.5 L424.6 301.1 L426.0 301.6 L427.3 302.0 L428.6 302.5 L429.9 302.8 L431.1 303.0 L432.4 303.0 L433.8 302.7 L435.2 302.1 L436.6 301.4 L437.8 300.7 L438.7 300.3 L438.3 301.6 L437.6 302.5 L436.7 303.8 L435.6 305.2 L434.5 306.5 L433.3 307.5 L432.1 308.1 L430.9 308.4 L429.7 308.6 L428.3 308.6 L426.9 308.5 L425.4 308.2 L423.7 307.8 L422.0 307.2 L420.3 306.7 L418.7 306.2 L417.2 305.7 L415.7 305.3 L414.3 304.8 L412.9 304.5 L411.5 304.4 L410.1 304.6 L408.6 305.1 L407.2 305.7 L406.0 306.2 L405.1 306.6Z" fill="url(#go)"/>
<path d="M405.1 306.6 L406.0 306.2 L407.2 305.7 L408.6 305.1 L410.1 304.6 L411.5 304.4 L412.9 304.5 L414.3 304.8 L415.7 305.3 L417.2 305.7 L418.7 306.2 L420.3 306.7 L422.0 307.2 L423.7 307.8 L425.4 308.2 L426.9 308.5 L428.3 308.6 L429.7 308.6 L430.9 308.4 L432.1 308.1 L433.3 307.5 L434.5 306.5 L435.6 305.2 L436.7 303.8 L437.6 302.5 L438.3 301.6" fill="none" stroke="#fbf8a0" stroke-width="0.5" opacity="0.8"/>
<text class="lab" x="189.7" y="417.3">a</text>
<text class="lab" x="219.2" y="463.3">b</text>
<text class="lab" x="251.2" y="406.4">c</text>
<text class="lab" x="284.0" y="462.7">d</text>
<text class="lab" x="301.8" y="406.4">e</text>
<text class="lab" x="326.9" y="450.4">f</text>
<text class="lab" x="341.5" y="387.1">g</text>
<text class="lab" x="366.3" y="439.5">h</text>
<text class="lab" x="367.5" y="358.5">i</text>
<text class="lab" x="390.9" y="421.2">j</text>
<text class="lab" x="399.0" y="338.2">k</text>
<text class="lab" x="423.0" y="403.4">l</text>
<text class="lab" x="470.6" y="367.1">m</text>
<text class="lab" x="500.2" y="324.9">n</text>
<text class="lab" x="396.6" y="300.8">o</text>
</svg>
</body>
</html>
